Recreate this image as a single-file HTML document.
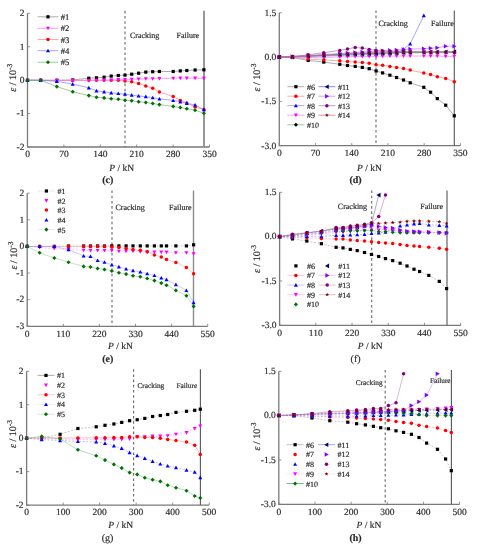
<!DOCTYPE html>
<html><head><meta charset="utf-8"><title>Strain vs load</title>
<style>
html,body{margin:0;padding:0;background:#fff;width:478px;height:550px;overflow:hidden;}
svg{display:block;will-change:transform;text-rendering:geometricPrecision;filter:blur(0.35px);}
text{stroke:#333;stroke-width:0.18px;font-family:"Liberation Serif", serif;}
</style></head><body>
<svg width="478" height="550" viewBox="0 0 478 550" font-family='"Liberation Serif", serif'>
<rect width="478" height="550" fill="#fff"/>
<line x1="27.5" y1="147" x2="27.5" y2="144.4" stroke="#7a7a7a" stroke-width="0.8"/>
<text x="27.5" y="157.3" font-size="9.5" text-anchor="middle" fill="#262626">0</text>
<line x1="63.9" y1="147" x2="63.9" y2="144.4" stroke="#7a7a7a" stroke-width="0.8"/>
<text x="63.9" y="157.3" font-size="9.5" text-anchor="middle" fill="#262626">70</text>
<line x1="100.3" y1="147" x2="100.3" y2="144.4" stroke="#7a7a7a" stroke-width="0.8"/>
<text x="100.3" y="157.3" font-size="9.5" text-anchor="middle" fill="#262626">140</text>
<line x1="136.7" y1="147" x2="136.7" y2="144.4" stroke="#7a7a7a" stroke-width="0.8"/>
<text x="136.7" y="157.3" font-size="9.5" text-anchor="middle" fill="#262626">210</text>
<line x1="173.1" y1="147" x2="173.1" y2="144.4" stroke="#7a7a7a" stroke-width="0.8"/>
<text x="173.1" y="157.3" font-size="9.5" text-anchor="middle" fill="#262626">280</text>
<line x1="209.5" y1="147" x2="209.5" y2="144.4" stroke="#7a7a7a" stroke-width="0.8"/>
<text x="209.5" y="157.3" font-size="9.5" text-anchor="middle" fill="#262626">350</text>
<line x1="27.5" y1="13.3" x2="30.1" y2="13.3" stroke="#7a7a7a" stroke-width="0.8"/>
<text x="24.5" y="16.1" font-size="9.5" text-anchor="end" fill="#262626">2</text>
<line x1="27.5" y1="46.72" x2="30.1" y2="46.72" stroke="#7a7a7a" stroke-width="0.8"/>
<text x="24.5" y="49.52" font-size="9.5" text-anchor="end" fill="#262626">1</text>
<line x1="27.5" y1="80.15" x2="30.1" y2="80.15" stroke="#7a7a7a" stroke-width="0.8"/>
<text x="24.5" y="82.95" font-size="9.5" text-anchor="end" fill="#262626">0</text>
<line x1="27.5" y1="113.57" x2="30.1" y2="113.57" stroke="#7a7a7a" stroke-width="0.8"/>
<text x="24.5" y="116.37" font-size="9.5" text-anchor="end" fill="#262626">-1</text>
<line x1="27.5" y1="147" x2="30.1" y2="147" stroke="#7a7a7a" stroke-width="0.8"/>
<text x="24.5" y="149.8" font-size="9.5" text-anchor="end" fill="#262626">-2</text>
<path d="M27.5 13.3V147H209.5" fill="none" stroke="#7a7a7a" stroke-width="1.3"/>
<line x1="125" y1="10.8" x2="125" y2="147" stroke="#666" stroke-width="1.1" stroke-dasharray="2.6,2.6"/>
<line x1="204" y1="10.8" x2="204" y2="147" stroke="#8c8c8c" stroke-width="1.8"/>
<text x="130" y="37.6" font-size="8" text-anchor="start" fill="#262626">Cracking</text>
<text x="176.5" y="37.6" font-size="8" text-anchor="start" fill="#262626">Failure</text>
<text transform="translate(16.2 77.7) rotate(-90)" font-size="10" text-anchor="middle" fill="#262626"><tspan font-style="italic">&#949;</tspan> / 10<tspan font-size="7.5" dy="-4">-3</tspan></text>
<text x="121.7" y="171" font-size="9.5" text-anchor="middle" fill="#262626"><tspan font-style="italic">P</tspan> / kN</text>
<text x="107.8" y="182.8" font-size="10" text-anchor="middle" font-weight="bold" fill="#262626">(c)</text>
<polyline points="27.5,80.3 40.7,80.3 56.8,80.3 72.7,80 88.8,78.2 96.5,77.8 104.1,77.2 111.2,76.1 118.3,75.5 125,75.1 131.7,74.2 138.6,73.2 145.8,72.1 152.7,71.7 159.4,71.5 173.2,71.5 180.3,70.9 186.8,70.5 195.1,70 203.9,69.8" fill="none" stroke="#8a8a8a" stroke-width="0.7"/>
<rect x="25.9" y="78.7" width="3.2" height="3.2" fill="#000000"/>
<rect x="39.1" y="78.7" width="3.2" height="3.2" fill="#000000"/>
<rect x="55.2" y="78.7" width="3.2" height="3.2" fill="#000000"/>
<rect x="71.1" y="78.4" width="3.2" height="3.2" fill="#000000"/>
<rect x="87.2" y="76.6" width="3.2" height="3.2" fill="#000000"/>
<rect x="94.9" y="76.2" width="3.2" height="3.2" fill="#000000"/>
<rect x="102.5" y="75.6" width="3.2" height="3.2" fill="#000000"/>
<rect x="109.6" y="74.5" width="3.2" height="3.2" fill="#000000"/>
<rect x="116.7" y="73.9" width="3.2" height="3.2" fill="#000000"/>
<rect x="123.4" y="73.5" width="3.2" height="3.2" fill="#000000"/>
<rect x="130.1" y="72.6" width="3.2" height="3.2" fill="#000000"/>
<rect x="137" y="71.6" width="3.2" height="3.2" fill="#000000"/>
<rect x="144.2" y="70.5" width="3.2" height="3.2" fill="#000000"/>
<rect x="151.1" y="70.1" width="3.2" height="3.2" fill="#000000"/>
<rect x="157.8" y="69.9" width="3.2" height="3.2" fill="#000000"/>
<rect x="171.6" y="69.9" width="3.2" height="3.2" fill="#000000"/>
<rect x="178.7" y="69.3" width="3.2" height="3.2" fill="#000000"/>
<rect x="185.2" y="68.9" width="3.2" height="3.2" fill="#000000"/>
<rect x="193.5" y="68.4" width="3.2" height="3.2" fill="#000000"/>
<rect x="202.3" y="68.2" width="3.2" height="3.2" fill="#000000"/>
<polyline points="27.5,80.3 40.7,80.3 56.8,80.3 72.7,80.3 88.8,80.3 96.5,80.3 104.1,80.3 111.2,80.3 118.3,80.3 125,81.1 131.7,81.8 138.6,83.6 145.8,85.9 152.7,88.2 159.4,92 173.2,96.6 180.3,100.4 186.8,102.9 195.1,107.1 203.9,109.6" fill="none" stroke="#ff8080" stroke-width="0.7"/>
<circle cx="27.5" cy="80.3" r="1.75" fill="#ff0000"/>
<circle cx="40.7" cy="80.3" r="1.75" fill="#ff0000"/>
<circle cx="56.8" cy="80.3" r="1.75" fill="#ff0000"/>
<circle cx="72.7" cy="80.3" r="1.75" fill="#ff0000"/>
<circle cx="88.8" cy="80.3" r="1.75" fill="#ff0000"/>
<circle cx="96.5" cy="80.3" r="1.75" fill="#ff0000"/>
<circle cx="104.1" cy="80.3" r="1.75" fill="#ff0000"/>
<circle cx="111.2" cy="80.3" r="1.75" fill="#ff0000"/>
<circle cx="118.3" cy="80.3" r="1.75" fill="#ff0000"/>
<circle cx="125" cy="81.1" r="1.75" fill="#ff0000"/>
<circle cx="131.7" cy="81.8" r="1.75" fill="#ff0000"/>
<circle cx="138.6" cy="83.6" r="1.75" fill="#ff0000"/>
<circle cx="145.8" cy="85.9" r="1.75" fill="#ff0000"/>
<circle cx="152.7" cy="88.2" r="1.75" fill="#ff0000"/>
<circle cx="159.4" cy="92" r="1.75" fill="#ff0000"/>
<circle cx="173.2" cy="96.6" r="1.75" fill="#ff0000"/>
<circle cx="180.3" cy="100.4" r="1.75" fill="#ff0000"/>
<circle cx="186.8" cy="102.9" r="1.75" fill="#ff0000"/>
<circle cx="195.1" cy="107.1" r="1.75" fill="#ff0000"/>
<circle cx="203.9" cy="109.6" r="1.75" fill="#ff0000"/>
<polyline points="27.5,80.3 40.7,80.3 56.8,80.5 72.7,80.5 88.8,80.5 96.5,80.3 104.1,80.3 111.2,80 118.3,79.7 125,79.5 131.7,79.3 138.6,79 145.8,78.8 152.7,78.8 159.4,78.5 173.2,78.3 180.3,78.2 186.8,78.2 195.1,78.2 203.9,78.4" fill="none" stroke="#f07cf0" stroke-width="0.7"/>
<path d="M27.5 82.3L29.5 78.7L25.5 78.7Z" fill="#ff00ff"/>
<path d="M40.7 82.3L42.7 78.7L38.7 78.7Z" fill="#ff00ff"/>
<path d="M56.8 82.5L58.8 78.9L54.8 78.9Z" fill="#ff00ff"/>
<path d="M72.7 82.5L74.7 78.9L70.7 78.9Z" fill="#ff00ff"/>
<path d="M88.8 82.5L90.8 78.9L86.8 78.9Z" fill="#ff00ff"/>
<path d="M96.5 82.3L98.5 78.7L94.5 78.7Z" fill="#ff00ff"/>
<path d="M104.1 82.3L106.1 78.7L102.1 78.7Z" fill="#ff00ff"/>
<path d="M111.2 82L113.2 78.4L109.2 78.4Z" fill="#ff00ff"/>
<path d="M118.3 81.7L120.3 78.1L116.3 78.1Z" fill="#ff00ff"/>
<path d="M125 81.5L127 77.9L123 77.9Z" fill="#ff00ff"/>
<path d="M131.7 81.3L133.7 77.7L129.7 77.7Z" fill="#ff00ff"/>
<path d="M138.6 81L140.6 77.4L136.6 77.4Z" fill="#ff00ff"/>
<path d="M145.8 80.8L147.8 77.2L143.8 77.2Z" fill="#ff00ff"/>
<path d="M152.7 80.8L154.7 77.2L150.7 77.2Z" fill="#ff00ff"/>
<path d="M159.4 80.5L161.4 76.9L157.4 76.9Z" fill="#ff00ff"/>
<path d="M173.2 80.3L175.2 76.7L171.2 76.7Z" fill="#ff00ff"/>
<path d="M180.3 80.2L182.3 76.6L178.3 76.6Z" fill="#ff00ff"/>
<path d="M186.8 80.2L188.8 76.6L184.8 76.6Z" fill="#ff00ff"/>
<path d="M195.1 80.2L197.1 76.6L193.1 76.6Z" fill="#ff00ff"/>
<path d="M203.9 80.4L205.9 76.8L201.9 76.8Z" fill="#ff00ff"/>
<polyline points="27.5,80.3 40.7,80.3 56.8,81.3 72.7,84.1 88.8,87.8 96.5,90.8 104.1,91.8 111.2,92.8 118.3,93.5 125,94.1 131.7,95.1 138.6,96 145.8,96.6 152.7,97.7 159.4,98.9 173.2,100.4 180.3,101.8 186.8,103.3 195.1,105 203.9,109.6" fill="none" stroke="#7f7fff" stroke-width="0.7"/>
<path d="M27.5 78.3L29.5 81.9L25.5 81.9Z" fill="#0000ff"/>
<path d="M40.7 78.3L42.7 81.9L38.7 81.9Z" fill="#0000ff"/>
<path d="M56.8 79.3L58.8 82.9L54.8 82.9Z" fill="#0000ff"/>
<path d="M72.7 82.1L74.7 85.7L70.7 85.7Z" fill="#0000ff"/>
<path d="M88.8 85.8L90.8 89.4L86.8 89.4Z" fill="#0000ff"/>
<path d="M96.5 88.8L98.5 92.4L94.5 92.4Z" fill="#0000ff"/>
<path d="M104.1 89.8L106.1 93.4L102.1 93.4Z" fill="#0000ff"/>
<path d="M111.2 90.8L113.2 94.4L109.2 94.4Z" fill="#0000ff"/>
<path d="M118.3 91.5L120.3 95.1L116.3 95.1Z" fill="#0000ff"/>
<path d="M125 92.1L127 95.7L123 95.7Z" fill="#0000ff"/>
<path d="M131.7 93.1L133.7 96.7L129.7 96.7Z" fill="#0000ff"/>
<path d="M138.6 94L140.6 97.6L136.6 97.6Z" fill="#0000ff"/>
<path d="M145.8 94.6L147.8 98.2L143.8 98.2Z" fill="#0000ff"/>
<path d="M152.7 95.7L154.7 99.3L150.7 99.3Z" fill="#0000ff"/>
<path d="M159.4 96.9L161.4 100.5L157.4 100.5Z" fill="#0000ff"/>
<path d="M173.2 98.4L175.2 102L171.2 102Z" fill="#0000ff"/>
<path d="M180.3 99.8L182.3 103.4L178.3 103.4Z" fill="#0000ff"/>
<path d="M186.8 101.3L188.8 104.9L184.8 104.9Z" fill="#0000ff"/>
<path d="M195.1 103L197.1 106.6L193.1 106.6Z" fill="#0000ff"/>
<path d="M203.9 107.6L205.9 111.2L201.9 111.2Z" fill="#0000ff"/>
<polyline points="27.5,80.3 40.7,80.3 56.8,86.6 72.7,91.8 88.8,95.6 96.5,97.2 104.1,97.9 111.2,98.7 118.3,99.3 125,100.2 131.7,100.8 138.6,101.8 145.8,102.5 152.7,103.5 159.4,104.6 173.2,106.4 180.3,107.5 186.8,108.7 195.1,110.2 203.9,113.3" fill="none" stroke="#74b874" stroke-width="0.7"/>
<path d="M27.5 78.25L29.55 80.3L27.5 82.35L25.45 80.3Z" fill="#006f00"/>
<path d="M40.7 78.25L42.75 80.3L40.7 82.35L38.65 80.3Z" fill="#006f00"/>
<path d="M56.8 84.55L58.85 86.6L56.8 88.65L54.75 86.6Z" fill="#006f00"/>
<path d="M72.7 89.75L74.75 91.8L72.7 93.85L70.65 91.8Z" fill="#006f00"/>
<path d="M88.8 93.55L90.85 95.6L88.8 97.65L86.75 95.6Z" fill="#006f00"/>
<path d="M96.5 95.15L98.55 97.2L96.5 99.25L94.45 97.2Z" fill="#006f00"/>
<path d="M104.1 95.85L106.15 97.9L104.1 99.95L102.05 97.9Z" fill="#006f00"/>
<path d="M111.2 96.65L113.25 98.7L111.2 100.75L109.15 98.7Z" fill="#006f00"/>
<path d="M118.3 97.25L120.35 99.3L118.3 101.35L116.25 99.3Z" fill="#006f00"/>
<path d="M125 98.15L127.05 100.2L125 102.25L122.95 100.2Z" fill="#006f00"/>
<path d="M131.7 98.75L133.75 100.8L131.7 102.85L129.65 100.8Z" fill="#006f00"/>
<path d="M138.6 99.75L140.65 101.8L138.6 103.85L136.55 101.8Z" fill="#006f00"/>
<path d="M145.8 100.45L147.85 102.5L145.8 104.55L143.75 102.5Z" fill="#006f00"/>
<path d="M152.7 101.45L154.75 103.5L152.7 105.55L150.65 103.5Z" fill="#006f00"/>
<path d="M159.4 102.55L161.45 104.6L159.4 106.65L157.35 104.6Z" fill="#006f00"/>
<path d="M173.2 104.35L175.25 106.4L173.2 108.45L171.15 106.4Z" fill="#006f00"/>
<path d="M180.3 105.45L182.35 107.5L180.3 109.55L178.25 107.5Z" fill="#006f00"/>
<path d="M186.8 106.65L188.85 108.7L186.8 110.75L184.75 108.7Z" fill="#006f00"/>
<path d="M195.1 108.15L197.15 110.2L195.1 112.25L193.05 110.2Z" fill="#006f00"/>
<path d="M203.9 111.25L205.95 113.3L203.9 115.35L201.85 113.3Z" fill="#006f00"/>
<line x1="37.6" y1="16.8" x2="58.4" y2="16.8" stroke="#8a8a8a" stroke-width="0.7" stroke-opacity="1.0"/>
<rect x="46.4" y="15.2" width="3.2" height="3.2" fill="#000000"/>
<text x="60.8" y="19.91" font-size="8.6" text-anchor="start" fill="#262626">#1</text>
<line x1="37.6" y1="28.3" x2="58.4" y2="28.3" stroke="#f07cf0" stroke-width="0.7" stroke-opacity="1.0"/>
<path d="M48 30.3L50 26.7L46 26.7Z" fill="#ff00ff"/>
<text x="60.8" y="31.41" font-size="8.6" text-anchor="start" fill="#262626">#2</text>
<line x1="37.6" y1="39.5" x2="58.4" y2="39.5" stroke="#ff8080" stroke-width="0.7" stroke-opacity="1.0"/>
<circle cx="48" cy="39.5" r="1.75" fill="#ff0000"/>
<text x="60.8" y="42.61" font-size="8.6" text-anchor="start" fill="#262626">#3</text>
<line x1="37.6" y1="50.7" x2="58.4" y2="50.7" stroke="#7f7fff" stroke-width="0.7" stroke-opacity="1.0"/>
<path d="M48 48.7L50 52.3L46 52.3Z" fill="#0000ff"/>
<text x="60.8" y="53.81" font-size="8.6" text-anchor="start" fill="#262626">#4</text>
<line x1="37.6" y1="62.2" x2="58.4" y2="62.2" stroke="#74b874" stroke-width="0.7" stroke-opacity="1.0"/>
<path d="M48 60.15L50.05 62.2L48 64.25L45.95 62.2Z" fill="#006f00"/>
<text x="60.8" y="65.31" font-size="8.6" text-anchor="start" fill="#262626">#5</text>
<line x1="279.3" y1="145.7" x2="279.3" y2="143.1" stroke="#7a7a7a" stroke-width="0.8"/>
<text x="279.3" y="156" font-size="9.5" text-anchor="middle" fill="#262626">0</text>
<line x1="315.52" y1="145.7" x2="315.52" y2="143.1" stroke="#7a7a7a" stroke-width="0.8"/>
<text x="315.52" y="156" font-size="9.5" text-anchor="middle" fill="#262626">70</text>
<line x1="351.74" y1="145.7" x2="351.74" y2="143.1" stroke="#7a7a7a" stroke-width="0.8"/>
<text x="351.74" y="156" font-size="9.5" text-anchor="middle" fill="#262626">140</text>
<line x1="387.96" y1="145.7" x2="387.96" y2="143.1" stroke="#7a7a7a" stroke-width="0.8"/>
<text x="387.96" y="156" font-size="9.5" text-anchor="middle" fill="#262626">210</text>
<line x1="424.18" y1="145.7" x2="424.18" y2="143.1" stroke="#7a7a7a" stroke-width="0.8"/>
<text x="424.18" y="156" font-size="9.5" text-anchor="middle" fill="#262626">280</text>
<line x1="460.4" y1="145.7" x2="460.4" y2="143.1" stroke="#7a7a7a" stroke-width="0.8"/>
<text x="460.4" y="156" font-size="9.5" text-anchor="middle" fill="#262626">350</text>
<line x1="279.3" y1="12.8" x2="281.9" y2="12.8" stroke="#7a7a7a" stroke-width="0.8"/>
<text x="276.3" y="15.6" font-size="9.5" text-anchor="end" fill="#262626">1.5</text>
<line x1="279.3" y1="57.1" x2="281.9" y2="57.1" stroke="#7a7a7a" stroke-width="0.8"/>
<text x="276.3" y="59.9" font-size="9.5" text-anchor="end" fill="#262626">0.0</text>
<line x1="279.3" y1="101.4" x2="281.9" y2="101.4" stroke="#7a7a7a" stroke-width="0.8"/>
<text x="276.3" y="104.2" font-size="9.5" text-anchor="end" fill="#262626">-1.5</text>
<line x1="279.3" y1="145.7" x2="281.9" y2="145.7" stroke="#7a7a7a" stroke-width="0.8"/>
<text x="276.3" y="148.5" font-size="9.5" text-anchor="end" fill="#262626">-3.0</text>
<path d="M279.3 12.8V145.7H460.4" fill="none" stroke="#7a7a7a" stroke-width="1.3"/>
<line x1="376" y1="10.4" x2="376" y2="145.7" stroke="#666" stroke-width="1.1" stroke-dasharray="2.6,2.6"/>
<line x1="454.3" y1="10.4" x2="454.3" y2="145.7" stroke="#555" stroke-width="1.1"/>
<text x="378.5" y="25.8" font-size="8" text-anchor="start" fill="#262626">Cracking</text>
<text x="431.1" y="25.8" font-size="8" text-anchor="start" fill="#262626">Failure</text>
<text transform="translate(260.2 77.5) rotate(-90)" font-size="10" text-anchor="middle" fill="#262626"><tspan font-style="italic">&#949;</tspan> / 10<tspan font-size="7.5" dy="-4">-3</tspan></text>
<text x="369.5" y="170.9" font-size="9.5" text-anchor="middle" fill="#262626"><tspan font-style="italic">P</tspan> / kN</text>
<text x="355.6" y="182.8" font-size="10" text-anchor="middle" font-weight="bold" fill="#262626">(d)</text>
<polyline points="279.3,57.1 292.4,57.5 308.2,60.4 323.8,62.1 339.8,64.3 347.5,65.5 355.2,66.4 362.3,67.4 369.2,68.7 376.1,71 382.6,72.9 389.9,75.2 396.6,77.5 403.5,80 410.2,82.8 423.8,87.3 430.6,92.2 437.3,98.6 445.7,105.2 454.3,115.8" fill="none" stroke="#8a8a8a" stroke-width="0.7"/>
<rect x="277.7" y="55.5" width="3.2" height="3.2" fill="#000000"/>
<rect x="290.8" y="55.9" width="3.2" height="3.2" fill="#000000"/>
<rect x="306.6" y="58.8" width="3.2" height="3.2" fill="#000000"/>
<rect x="322.2" y="60.5" width="3.2" height="3.2" fill="#000000"/>
<rect x="338.2" y="62.7" width="3.2" height="3.2" fill="#000000"/>
<rect x="345.9" y="63.9" width="3.2" height="3.2" fill="#000000"/>
<rect x="353.6" y="64.8" width="3.2" height="3.2" fill="#000000"/>
<rect x="360.7" y="65.8" width="3.2" height="3.2" fill="#000000"/>
<rect x="367.6" y="67.1" width="3.2" height="3.2" fill="#000000"/>
<rect x="374.5" y="69.4" width="3.2" height="3.2" fill="#000000"/>
<rect x="381" y="71.3" width="3.2" height="3.2" fill="#000000"/>
<rect x="388.3" y="73.6" width="3.2" height="3.2" fill="#000000"/>
<rect x="395" y="75.9" width="3.2" height="3.2" fill="#000000"/>
<rect x="401.9" y="78.4" width="3.2" height="3.2" fill="#000000"/>
<rect x="408.6" y="81.2" width="3.2" height="3.2" fill="#000000"/>
<rect x="422.2" y="85.7" width="3.2" height="3.2" fill="#000000"/>
<rect x="429" y="90.6" width="3.2" height="3.2" fill="#000000"/>
<rect x="435.7" y="97" width="3.2" height="3.2" fill="#000000"/>
<rect x="444.1" y="103.6" width="3.2" height="3.2" fill="#000000"/>
<rect x="452.7" y="114.2" width="3.2" height="3.2" fill="#000000"/>
<polyline points="279.3,57.1 292.4,57.3 308.2,59 323.8,59.8 339.8,60.8 347.5,61.5 355.2,62 362.3,62.6 369.2,63.3 376.1,64.7 382.6,65.3 389.9,66.4 396.6,67.4 403.5,68.5 410.2,70.1 423.8,73.1 430.6,74.6 437.3,76.7 445.7,78.4 454.3,81.8" fill="none" stroke="#ff8080" stroke-width="0.7"/>
<circle cx="279.3" cy="57.1" r="1.75" fill="#ff0000"/>
<circle cx="292.4" cy="57.3" r="1.75" fill="#ff0000"/>
<circle cx="308.2" cy="59" r="1.75" fill="#ff0000"/>
<circle cx="323.8" cy="59.8" r="1.75" fill="#ff0000"/>
<circle cx="339.8" cy="60.8" r="1.75" fill="#ff0000"/>
<circle cx="347.5" cy="61.5" r="1.75" fill="#ff0000"/>
<circle cx="355.2" cy="62" r="1.75" fill="#ff0000"/>
<circle cx="362.3" cy="62.6" r="1.75" fill="#ff0000"/>
<circle cx="369.2" cy="63.3" r="1.75" fill="#ff0000"/>
<circle cx="376.1" cy="64.7" r="1.75" fill="#ff0000"/>
<circle cx="382.6" cy="65.3" r="1.75" fill="#ff0000"/>
<circle cx="389.9" cy="66.4" r="1.75" fill="#ff0000"/>
<circle cx="396.6" cy="67.4" r="1.75" fill="#ff0000"/>
<circle cx="403.5" cy="68.5" r="1.75" fill="#ff0000"/>
<circle cx="410.2" cy="70.1" r="1.75" fill="#ff0000"/>
<circle cx="423.8" cy="73.1" r="1.75" fill="#ff0000"/>
<circle cx="430.6" cy="74.6" r="1.75" fill="#ff0000"/>
<circle cx="437.3" cy="76.7" r="1.75" fill="#ff0000"/>
<circle cx="445.7" cy="78.4" r="1.75" fill="#ff0000"/>
<circle cx="454.3" cy="81.8" r="1.75" fill="#ff0000"/>
<polyline points="279.3,57.1 292.4,57 308.2,56.5 323.8,56 339.8,55.5 347.5,55.2 355.2,55 362.3,54.8 369.2,54.6 376.1,54.4 382.6,54 389.9,53.5 396.6,53 403.5,49.2 410.2,43.8 423.8,15.6" fill="none" stroke="#7f7fff" stroke-width="0.7"/>
<path d="M279.3 55.1L281.3 58.7L277.3 58.7Z" fill="#0000ff"/>
<path d="M292.4 55L294.4 58.6L290.4 58.6Z" fill="#0000ff"/>
<path d="M308.2 54.5L310.2 58.1L306.2 58.1Z" fill="#0000ff"/>
<path d="M323.8 54L325.8 57.6L321.8 57.6Z" fill="#0000ff"/>
<path d="M339.8 53.5L341.8 57.1L337.8 57.1Z" fill="#0000ff"/>
<path d="M347.5 53.2L349.5 56.8L345.5 56.8Z" fill="#0000ff"/>
<path d="M355.2 53L357.2 56.6L353.2 56.6Z" fill="#0000ff"/>
<path d="M362.3 52.8L364.3 56.4L360.3 56.4Z" fill="#0000ff"/>
<path d="M369.2 52.6L371.2 56.2L367.2 56.2Z" fill="#0000ff"/>
<path d="M376.1 52.4L378.1 56L374.1 56Z" fill="#0000ff"/>
<path d="M382.6 52L384.6 55.6L380.6 55.6Z" fill="#0000ff"/>
<path d="M389.9 51.5L391.9 55.1L387.9 55.1Z" fill="#0000ff"/>
<path d="M396.6 51L398.6 54.6L394.6 54.6Z" fill="#0000ff"/>
<path d="M403.5 47.2L405.5 50.8L401.5 50.8Z" fill="#0000ff"/>
<path d="M410.2 41.8L412.2 45.4L408.2 45.4Z" fill="#0000ff"/>
<path d="M423.8 13.6L425.8 17.2L421.8 17.2Z" fill="#0000ff"/>
<polyline points="279.3,57.1 292.4,57.3 308.2,57.5 323.8,57.3 339.8,57 347.5,56.8 355.2,56.6 362.3,56.5 369.2,56.4 376.1,56.3 382.6,56.2 389.9,56.1 396.6,56 403.5,56 410.2,56 423.8,56 430.6,56 437.3,56 445.7,56.4 454.3,56.3" fill="none" stroke="#f07cf0" stroke-width="0.7"/>
<path d="M279.3 59.1L281.3 55.5L277.3 55.5Z" fill="#ff00ff"/>
<path d="M292.4 59.3L294.4 55.7L290.4 55.7Z" fill="#ff00ff"/>
<path d="M308.2 59.5L310.2 55.9L306.2 55.9Z" fill="#ff00ff"/>
<path d="M323.8 59.3L325.8 55.7L321.8 55.7Z" fill="#ff00ff"/>
<path d="M339.8 59L341.8 55.4L337.8 55.4Z" fill="#ff00ff"/>
<path d="M347.5 58.8L349.5 55.2L345.5 55.2Z" fill="#ff00ff"/>
<path d="M355.2 58.6L357.2 55L353.2 55Z" fill="#ff00ff"/>
<path d="M362.3 58.5L364.3 54.9L360.3 54.9Z" fill="#ff00ff"/>
<path d="M369.2 58.4L371.2 54.8L367.2 54.8Z" fill="#ff00ff"/>
<path d="M376.1 58.3L378.1 54.7L374.1 54.7Z" fill="#ff00ff"/>
<path d="M382.6 58.2L384.6 54.6L380.6 54.6Z" fill="#ff00ff"/>
<path d="M389.9 58.1L391.9 54.5L387.9 54.5Z" fill="#ff00ff"/>
<path d="M396.6 58L398.6 54.4L394.6 54.4Z" fill="#ff00ff"/>
<path d="M403.5 58L405.5 54.4L401.5 54.4Z" fill="#ff00ff"/>
<path d="M410.2 58L412.2 54.4L408.2 54.4Z" fill="#ff00ff"/>
<path d="M423.8 58L425.8 54.4L421.8 54.4Z" fill="#ff00ff"/>
<path d="M430.6 58L432.6 54.4L428.6 54.4Z" fill="#ff00ff"/>
<path d="M437.3 58L439.3 54.4L435.3 54.4Z" fill="#ff00ff"/>
<path d="M445.7 58.4L447.7 54.8L443.7 54.8Z" fill="#ff00ff"/>
<path d="M454.3 58.3L456.3 54.7L452.3 54.7Z" fill="#ff00ff"/>
<polyline points="279.3,57.1 292.4,56.8 308.2,56.2 323.8,55.6 339.8,55 347.5,54.6 355.2,54.3 362.3,54 369.2,53.8 376.1,53.6 382.6,53.4 389.9,53.2 396.6,53.1 403.5,53 410.2,52.9 423.8,52.8 430.6,52.7 437.3,52.7 445.7,52.6 454.3,52.5" fill="none" stroke="#74b874" stroke-width="0.7"/>
<path d="M279.3 55.05L281.35 57.1L279.3 59.15L277.25 57.1Z" fill="#006f00"/>
<path d="M292.4 54.75L294.45 56.8L292.4 58.85L290.35 56.8Z" fill="#006f00"/>
<path d="M308.2 54.15L310.25 56.2L308.2 58.25L306.15 56.2Z" fill="#006f00"/>
<path d="M323.8 53.55L325.85 55.6L323.8 57.65L321.75 55.6Z" fill="#006f00"/>
<path d="M339.8 52.95L341.85 55L339.8 57.05L337.75 55Z" fill="#006f00"/>
<path d="M347.5 52.55L349.55 54.6L347.5 56.65L345.45 54.6Z" fill="#006f00"/>
<path d="M355.2 52.25L357.25 54.3L355.2 56.35L353.15 54.3Z" fill="#006f00"/>
<path d="M362.3 51.95L364.35 54L362.3 56.05L360.25 54Z" fill="#006f00"/>
<path d="M369.2 51.75L371.25 53.8L369.2 55.85L367.15 53.8Z" fill="#006f00"/>
<path d="M376.1 51.55L378.15 53.6L376.1 55.65L374.05 53.6Z" fill="#006f00"/>
<path d="M382.6 51.35L384.65 53.4L382.6 55.45L380.55 53.4Z" fill="#006f00"/>
<path d="M389.9 51.15L391.95 53.2L389.9 55.25L387.85 53.2Z" fill="#006f00"/>
<path d="M396.6 51.05L398.65 53.1L396.6 55.15L394.55 53.1Z" fill="#006f00"/>
<path d="M403.5 50.95L405.55 53L403.5 55.05L401.45 53Z" fill="#006f00"/>
<path d="M410.2 50.85L412.25 52.9L410.2 54.95L408.15 52.9Z" fill="#006f00"/>
<path d="M423.8 50.75L425.85 52.8L423.8 54.85L421.75 52.8Z" fill="#006f00"/>
<path d="M430.6 50.65L432.65 52.7L430.6 54.75L428.55 52.7Z" fill="#006f00"/>
<path d="M437.3 50.65L439.35 52.7L437.3 54.75L435.25 52.7Z" fill="#006f00"/>
<path d="M445.7 50.55L447.75 52.6L445.7 54.65L443.65 52.6Z" fill="#006f00"/>
<path d="M454.3 50.45L456.35 52.5L454.3 54.55L452.25 52.5Z" fill="#006f00"/>
<polyline points="279.3,57.1 292.4,56.8 308.2,56 323.8,55.2 339.8,54.5 347.5,54.2 355.2,53.9 362.3,53.6 369.2,53.4 376.1,53.2 382.6,53 389.9,52.8 396.6,52.6 403.5,52.4 410.2,52.3 423.8,52.2 430.6,52.1 437.3,52 445.7,51.9 454.3,51.8" fill="none" stroke="#5c5cb0" stroke-width="0.7"/>
<path d="M277 57.1L281.14 54.8L281.14 59.4Z" fill="#000080"/>
<path d="M290.1 56.8L294.24 54.5L294.24 59.1Z" fill="#000080"/>
<path d="M305.9 56L310.04 53.7L310.04 58.3Z" fill="#000080"/>
<path d="M321.5 55.2L325.64 52.9L325.64 57.5Z" fill="#000080"/>
<path d="M337.5 54.5L341.64 52.2L341.64 56.8Z" fill="#000080"/>
<path d="M345.2 54.2L349.34 51.9L349.34 56.5Z" fill="#000080"/>
<path d="M352.9 53.9L357.04 51.6L357.04 56.2Z" fill="#000080"/>
<path d="M360 53.6L364.14 51.3L364.14 55.9Z" fill="#000080"/>
<path d="M366.9 53.4L371.04 51.1L371.04 55.7Z" fill="#000080"/>
<path d="M373.8 53.2L377.94 50.9L377.94 55.5Z" fill="#000080"/>
<path d="M380.3 53L384.44 50.7L384.44 55.3Z" fill="#000080"/>
<path d="M387.6 52.8L391.74 50.5L391.74 55.1Z" fill="#000080"/>
<path d="M394.3 52.6L398.44 50.3L398.44 54.9Z" fill="#000080"/>
<path d="M401.2 52.4L405.34 50.1L405.34 54.7Z" fill="#000080"/>
<path d="M407.9 52.3L412.04 50L412.04 54.6Z" fill="#000080"/>
<path d="M421.5 52.2L425.64 49.9L425.64 54.5Z" fill="#000080"/>
<path d="M428.3 52.1L432.44 49.8L432.44 54.4Z" fill="#000080"/>
<path d="M435 52L439.14 49.7L439.14 54.3Z" fill="#000080"/>
<path d="M443.4 51.9L447.54 49.6L447.54 54.2Z" fill="#000080"/>
<path d="M452 51.8L456.14 49.5L456.14 54.1Z" fill="#000080"/>
<polyline points="279.3,57.1 292.4,56.5 308.2,55.5 323.8,54.5 339.8,53.5 347.5,53 355.2,52.5 362.3,52 369.2,51.6 376.1,51.2 382.6,50.8 389.9,50.4 396.6,50 403.5,49.5 410.2,49 423.8,48.8 430.6,48.2 437.3,47.8 445.7,46.2 454.3,46.2" fill="none" stroke="#b780ff" stroke-width="0.7"/>
<path d="M281.6 57.1L277.46 54.8L277.46 59.4Z" fill="#8000ff"/>
<path d="M294.7 56.5L290.56 54.2L290.56 58.8Z" fill="#8000ff"/>
<path d="M310.5 55.5L306.36 53.2L306.36 57.8Z" fill="#8000ff"/>
<path d="M326.1 54.5L321.96 52.2L321.96 56.8Z" fill="#8000ff"/>
<path d="M342.1 53.5L337.96 51.2L337.96 55.8Z" fill="#8000ff"/>
<path d="M349.8 53L345.66 50.7L345.66 55.3Z" fill="#8000ff"/>
<path d="M357.5 52.5L353.36 50.2L353.36 54.8Z" fill="#8000ff"/>
<path d="M364.6 52L360.46 49.7L360.46 54.3Z" fill="#8000ff"/>
<path d="M371.5 51.6L367.36 49.3L367.36 53.9Z" fill="#8000ff"/>
<path d="M378.4 51.2L374.26 48.9L374.26 53.5Z" fill="#8000ff"/>
<path d="M384.9 50.8L380.76 48.5L380.76 53.1Z" fill="#8000ff"/>
<path d="M392.2 50.4L388.06 48.1L388.06 52.7Z" fill="#8000ff"/>
<path d="M398.9 50L394.76 47.7L394.76 52.3Z" fill="#8000ff"/>
<path d="M405.8 49.5L401.66 47.2L401.66 51.8Z" fill="#8000ff"/>
<path d="M412.5 49L408.36 46.7L408.36 51.3Z" fill="#8000ff"/>
<path d="M426.1 48.8L421.96 46.5L421.96 51.1Z" fill="#8000ff"/>
<path d="M432.9 48.2L428.76 45.9L428.76 50.5Z" fill="#8000ff"/>
<path d="M439.6 47.8L435.46 45.5L435.46 50.1Z" fill="#8000ff"/>
<path d="M448 46.2L443.86 43.9L443.86 48.5Z" fill="#8000ff"/>
<path d="M456.6 46.2L452.46 43.9L452.46 48.5Z" fill="#8000ff"/>
<polyline points="279.3,57.1 292.4,56.5 308.2,54.8 323.8,52.7 339.8,50.4 347.5,48.9 355.2,47.5 362.3,48.1 369.2,49.4 376.1,50.4 382.6,51 389.9,51.5 396.6,51.7 403.5,51.8 410.2,51.9 423.8,52 430.6,52 437.3,52 445.7,52 454.3,52.2" fill="none" stroke="#b070b0" stroke-width="0.7"/>
<circle cx="279.3" cy="57.1" r="1.75" fill="#800080"/>
<circle cx="292.4" cy="56.5" r="1.75" fill="#800080"/>
<circle cx="308.2" cy="54.8" r="1.75" fill="#800080"/>
<circle cx="323.8" cy="52.7" r="1.75" fill="#800080"/>
<circle cx="339.8" cy="50.4" r="1.75" fill="#800080"/>
<circle cx="347.5" cy="48.9" r="1.75" fill="#800080"/>
<circle cx="355.2" cy="47.5" r="1.75" fill="#800080"/>
<circle cx="362.3" cy="48.1" r="1.75" fill="#800080"/>
<circle cx="369.2" cy="49.4" r="1.75" fill="#800080"/>
<circle cx="376.1" cy="50.4" r="1.75" fill="#800080"/>
<circle cx="382.6" cy="51" r="1.75" fill="#800080"/>
<circle cx="389.9" cy="51.5" r="1.75" fill="#800080"/>
<circle cx="396.6" cy="51.7" r="1.75" fill="#800080"/>
<circle cx="403.5" cy="51.8" r="1.75" fill="#800080"/>
<circle cx="410.2" cy="51.9" r="1.75" fill="#800080"/>
<circle cx="423.8" cy="52" r="1.75" fill="#800080"/>
<circle cx="430.6" cy="52" r="1.75" fill="#800080"/>
<circle cx="437.3" cy="52" r="1.75" fill="#800080"/>
<circle cx="445.7" cy="52" r="1.75" fill="#800080"/>
<circle cx="454.3" cy="52.2" r="1.75" fill="#800080"/>
<polyline points="279.3,57.1 292.4,56.6 308.2,55.8 323.8,55 339.8,54.2 347.5,53.8 355.2,53.4 362.3,53 369.2,52.7 376.1,52.4 382.6,52.2 389.9,52 396.6,51.9 403.5,51.8 410.2,51.8 423.8,51.9 430.6,51.9 437.3,51.9 445.7,51.9 454.3,52.2" fill="none" stroke="#b07070" stroke-width="0.7"/>
<path d="M279.3 55.1L279.83 56.37L281.2 56.48L280.16 57.38L280.48 58.72L279.3 58L278.12 58.72L278.44 57.38L277.4 56.48L278.77 56.37Z" fill="#800000"/>
<path d="M292.4 54.6L292.93 55.87L294.3 55.98L293.26 56.88L293.58 58.22L292.4 57.5L291.22 58.22L291.54 56.88L290.5 55.98L291.87 55.87Z" fill="#800000"/>
<path d="M308.2 53.8L308.73 55.07L310.1 55.18L309.06 56.08L309.38 57.42L308.2 56.7L307.02 57.42L307.34 56.08L306.3 55.18L307.67 55.07Z" fill="#800000"/>
<path d="M323.8 53L324.33 54.27L325.7 54.38L324.66 55.28L324.98 56.62L323.8 55.9L322.62 56.62L322.94 55.28L321.9 54.38L323.27 54.27Z" fill="#800000"/>
<path d="M339.8 52.2L340.33 53.47L341.7 53.58L340.66 54.48L340.98 55.82L339.8 55.1L338.62 55.82L338.94 54.48L337.9 53.58L339.27 53.47Z" fill="#800000"/>
<path d="M347.5 51.8L348.03 53.07L349.4 53.18L348.36 54.08L348.68 55.42L347.5 54.7L346.32 55.42L346.64 54.08L345.6 53.18L346.97 53.07Z" fill="#800000"/>
<path d="M355.2 51.4L355.73 52.67L357.1 52.78L356.06 53.68L356.38 55.02L355.2 54.3L354.02 55.02L354.34 53.68L353.3 52.78L354.67 52.67Z" fill="#800000"/>
<path d="M362.3 51L362.83 52.27L364.2 52.38L363.16 53.28L363.48 54.62L362.3 53.9L361.12 54.62L361.44 53.28L360.4 52.38L361.77 52.27Z" fill="#800000"/>
<path d="M369.2 50.7L369.73 51.97L371.1 52.08L370.06 52.98L370.38 54.32L369.2 53.6L368.02 54.32L368.34 52.98L367.3 52.08L368.67 51.97Z" fill="#800000"/>
<path d="M376.1 50.4L376.63 51.67L378 51.78L376.96 52.68L377.28 54.02L376.1 53.3L374.92 54.02L375.24 52.68L374.2 51.78L375.57 51.67Z" fill="#800000"/>
<path d="M382.6 50.2L383.13 51.47L384.5 51.58L383.46 52.48L383.78 53.82L382.6 53.1L381.42 53.82L381.74 52.48L380.7 51.58L382.07 51.47Z" fill="#800000"/>
<path d="M389.9 50L390.43 51.27L391.8 51.38L390.76 52.28L391.08 53.62L389.9 52.9L388.72 53.62L389.04 52.28L388 51.38L389.37 51.27Z" fill="#800000"/>
<path d="M396.6 49.9L397.13 51.17L398.5 51.28L397.46 52.18L397.78 53.52L396.6 52.8L395.42 53.52L395.74 52.18L394.7 51.28L396.07 51.17Z" fill="#800000"/>
<path d="M403.5 49.8L404.03 51.07L405.4 51.18L404.36 52.08L404.68 53.42L403.5 52.7L402.32 53.42L402.64 52.08L401.6 51.18L402.97 51.07Z" fill="#800000"/>
<path d="M410.2 49.8L410.73 51.07L412.1 51.18L411.06 52.08L411.38 53.42L410.2 52.7L409.02 53.42L409.34 52.08L408.3 51.18L409.67 51.07Z" fill="#800000"/>
<path d="M423.8 49.9L424.33 51.17L425.7 51.28L424.66 52.18L424.98 53.52L423.8 52.8L422.62 53.52L422.94 52.18L421.9 51.28L423.27 51.17Z" fill="#800000"/>
<path d="M430.6 49.9L431.13 51.17L432.5 51.28L431.46 52.18L431.78 53.52L430.6 52.8L429.42 53.52L429.74 52.18L428.7 51.28L430.07 51.17Z" fill="#800000"/>
<path d="M437.3 49.9L437.83 51.17L439.2 51.28L438.16 52.18L438.48 53.52L437.3 52.8L436.12 53.52L436.44 52.18L435.4 51.28L436.77 51.17Z" fill="#800000"/>
<path d="M445.7 49.9L446.23 51.17L447.6 51.28L446.56 52.18L446.88 53.52L445.7 52.8L444.52 53.52L444.84 52.18L443.8 51.28L445.17 51.17Z" fill="#800000"/>
<path d="M454.3 50.2L454.83 51.47L456.2 51.58L455.16 52.48L455.48 53.82L454.3 53.1L453.12 53.82L453.44 52.48L452.4 51.58L453.77 51.47Z" fill="#800000"/>
<line x1="287.4" y1="86.7" x2="304.4" y2="86.7" stroke="#8a8a8a" stroke-width="0.7" stroke-opacity="1.0"/>
<rect x="294.3" y="85.1" width="3.2" height="3.2" fill="#000000"/>
<text x="306.9" y="89.6" font-size="8" text-anchor="start" fill="#262626">#6</text>
<line x1="287.4" y1="96.2" x2="304.4" y2="96.2" stroke="#ff8080" stroke-width="0.7" stroke-opacity="1.0"/>
<circle cx="295.9" cy="96.2" r="1.75" fill="#ff0000"/>
<text x="306.9" y="99.1" font-size="8" text-anchor="start" fill="#262626">#7</text>
<line x1="287.4" y1="105.7" x2="304.4" y2="105.7" stroke="#7f7fff" stroke-width="0.7" stroke-opacity="1.0"/>
<path d="M295.9 103.7L297.9 107.3L293.9 107.3Z" fill="#0000ff"/>
<text x="306.9" y="108.6" font-size="8" text-anchor="start" fill="#262626">#8</text>
<line x1="287.4" y1="115.2" x2="304.4" y2="115.2" stroke="#f07cf0" stroke-width="0.7" stroke-opacity="1.0"/>
<path d="M295.9 117.2L297.9 113.6L293.9 113.6Z" fill="#ff00ff"/>
<text x="306.9" y="118.1" font-size="8" text-anchor="start" fill="#262626">#9</text>
<line x1="287.4" y1="124.8" x2="304.4" y2="124.8" stroke="#74b874" stroke-width="0.7" stroke-opacity="1.0"/>
<path d="M295.9 122.75L297.95 124.8L295.9 126.85L293.85 124.8Z" fill="#000000"/>
<text x="306.9" y="127.7" font-size="8" text-anchor="start" fill="#262626">#10</text>
<line x1="318.4" y1="86.7" x2="335.4" y2="86.7" stroke="#5c5cb0" stroke-width="0.7" stroke-opacity="1.0"/>
<path d="M324.6 86.7L328.74 84.4L328.74 89Z" fill="#000080"/>
<text x="337.9" y="89.6" font-size="8" text-anchor="start" fill="#262626">#11</text>
<line x1="318.4" y1="96.2" x2="335.4" y2="96.2" stroke="#b780ff" stroke-width="0.7" stroke-opacity="1.0"/>
<path d="M329.2 96.2L325.06 93.9L325.06 98.5Z" fill="#8000ff"/>
<text x="337.9" y="99.1" font-size="8" text-anchor="start" fill="#262626">#12</text>
<line x1="318.4" y1="105.7" x2="335.4" y2="105.7" stroke="#b070b0" stroke-width="0.7" stroke-opacity="1.0"/>
<circle cx="326.9" cy="105.7" r="1.75" fill="#800080"/>
<text x="337.9" y="108.6" font-size="8" text-anchor="start" fill="#262626">#13</text>
<line x1="318.4" y1="115.2" x2="335.4" y2="115.2" stroke="#b07070" stroke-width="0.7" stroke-opacity="1.0"/>
<path d="M326.9 113.2L327.43 114.47L328.8 114.58L327.76 115.48L328.08 116.82L326.9 116.1L325.72 116.82L326.04 115.48L325 114.58L326.37 114.47Z" fill="#800000"/>
<text x="337.9" y="118.1" font-size="8" text-anchor="start" fill="#262626">#14</text>
<line x1="27.2" y1="326.3" x2="27.2" y2="323.7" stroke="#7a7a7a" stroke-width="0.8"/>
<text x="27.2" y="336.6" font-size="9.5" text-anchor="middle" fill="#262626">0</text>
<line x1="63.3" y1="326.3" x2="63.3" y2="323.7" stroke="#7a7a7a" stroke-width="0.8"/>
<text x="63.3" y="336.6" font-size="9.5" text-anchor="middle" fill="#262626">110</text>
<line x1="99.4" y1="326.3" x2="99.4" y2="323.7" stroke="#7a7a7a" stroke-width="0.8"/>
<text x="99.4" y="336.6" font-size="9.5" text-anchor="middle" fill="#262626">220</text>
<line x1="135.5" y1="326.3" x2="135.5" y2="323.7" stroke="#7a7a7a" stroke-width="0.8"/>
<text x="135.5" y="336.6" font-size="9.5" text-anchor="middle" fill="#262626">330</text>
<line x1="171.6" y1="326.3" x2="171.6" y2="323.7" stroke="#7a7a7a" stroke-width="0.8"/>
<text x="171.6" y="336.6" font-size="9.5" text-anchor="middle" fill="#262626">440</text>
<line x1="207.7" y1="326.3" x2="207.7" y2="323.7" stroke="#7a7a7a" stroke-width="0.8"/>
<text x="207.7" y="336.6" font-size="9.5" text-anchor="middle" fill="#262626">550</text>
<line x1="27.2" y1="193.2" x2="29.8" y2="193.2" stroke="#7a7a7a" stroke-width="0.8"/>
<text x="24.2" y="196" font-size="9.5" text-anchor="end" fill="#262626">2</text>
<line x1="27.2" y1="219.82" x2="29.8" y2="219.82" stroke="#7a7a7a" stroke-width="0.8"/>
<text x="24.2" y="222.62" font-size="9.5" text-anchor="end" fill="#262626">1</text>
<line x1="27.2" y1="246.44" x2="29.8" y2="246.44" stroke="#7a7a7a" stroke-width="0.8"/>
<text x="24.2" y="249.24" font-size="9.5" text-anchor="end" fill="#262626">0</text>
<line x1="27.2" y1="273.06" x2="29.8" y2="273.06" stroke="#7a7a7a" stroke-width="0.8"/>
<text x="24.2" y="275.86" font-size="9.5" text-anchor="end" fill="#262626">-1</text>
<line x1="27.2" y1="299.68" x2="29.8" y2="299.68" stroke="#7a7a7a" stroke-width="0.8"/>
<text x="24.2" y="302.48" font-size="9.5" text-anchor="end" fill="#262626">-2</text>
<line x1="27.2" y1="326.3" x2="29.8" y2="326.3" stroke="#7a7a7a" stroke-width="0.8"/>
<text x="24.2" y="329.1" font-size="9.5" text-anchor="end" fill="#262626">-3</text>
<path d="M27.2 193.2V326.3H207.7" fill="none" stroke="#7a7a7a" stroke-width="1.3"/>
<line x1="112" y1="190.5" x2="112" y2="326.3" stroke="#666" stroke-width="1.1" stroke-dasharray="2.6,2.6"/>
<line x1="193.5" y1="190.5" x2="193.5" y2="326.3" stroke="#8c8c8c" stroke-width="1.4"/>
<text x="115.4" y="209.7" font-size="8" text-anchor="start" fill="#262626">Cracking</text>
<text x="169" y="209.7" font-size="8" text-anchor="start" fill="#262626">Failure</text>
<text transform="translate(16.8 255.6) rotate(-90)" font-size="10" text-anchor="middle" fill="#262626"><tspan font-style="italic">&#949;</tspan> / 10<tspan font-size="7.5" dy="-4">-3</tspan></text>
<text x="120.4" y="349.3" font-size="9.5" text-anchor="middle" fill="#262626"><tspan font-style="italic">P</tspan> / kN</text>
<text x="107.8" y="361.8" font-size="10" text-anchor="middle" font-weight="bold" fill="#262626">(e)</text>
<polyline points="27.2,246.4 39.6,246.4 54.3,246.4 68.5,246 83.6,246 90.5,246 97.6,246 104.5,246 111.8,245.9 118.9,245.9 126.1,245.9 133,245.9 140.3,245.9 147.2,245.9 154.4,245.9 161.3,245.9 166.5,245.9 175.9,245.9 186.4,245.9 193.6,244.8" fill="none" stroke="#8a8a8a" stroke-width="0.7" stroke-dasharray="2,1.5" stroke-opacity="0.6"/>
<rect x="25.6" y="244.8" width="3.2" height="3.2" fill="#000000"/>
<rect x="38" y="244.8" width="3.2" height="3.2" fill="#000000"/>
<rect x="52.7" y="244.8" width="3.2" height="3.2" fill="#000000"/>
<rect x="66.9" y="244.4" width="3.2" height="3.2" fill="#000000"/>
<rect x="82" y="244.4" width="3.2" height="3.2" fill="#000000"/>
<rect x="88.9" y="244.4" width="3.2" height="3.2" fill="#000000"/>
<rect x="96" y="244.4" width="3.2" height="3.2" fill="#000000"/>
<rect x="102.9" y="244.4" width="3.2" height="3.2" fill="#000000"/>
<rect x="110.2" y="244.3" width="3.2" height="3.2" fill="#000000"/>
<rect x="117.3" y="244.3" width="3.2" height="3.2" fill="#000000"/>
<rect x="124.5" y="244.3" width="3.2" height="3.2" fill="#000000"/>
<rect x="131.4" y="244.3" width="3.2" height="3.2" fill="#000000"/>
<rect x="138.7" y="244.3" width="3.2" height="3.2" fill="#000000"/>
<rect x="145.6" y="244.3" width="3.2" height="3.2" fill="#000000"/>
<rect x="152.8" y="244.3" width="3.2" height="3.2" fill="#000000"/>
<rect x="159.7" y="244.3" width="3.2" height="3.2" fill="#000000"/>
<rect x="164.9" y="244.3" width="3.2" height="3.2" fill="#000000"/>
<rect x="174.3" y="244.3" width="3.2" height="3.2" fill="#000000"/>
<rect x="184.8" y="244.3" width="3.2" height="3.2" fill="#000000"/>
<rect x="192" y="243.2" width="3.2" height="3.2" fill="#000000"/>
<polyline points="27.2,246.4 39.6,247.6 54.3,248.6 68.5,249.6 83.6,250.3 90.5,250.5 97.6,250.5 104.5,250.6 111.8,250.7 118.9,251.3 126.1,251.3 133,251.3 140.3,251.7 147.2,252.2 154.4,252.2 161.3,252.2 166.5,252.2 175.9,252.8 186.4,252.8 193.6,253.8" fill="none" stroke="#f07cf0" stroke-width="0.7" stroke-dasharray="2,1.5" stroke-opacity="0.6"/>
<path d="M27.2 248.4L29.2 244.8L25.2 244.8Z" fill="#ff00ff"/>
<path d="M39.6 249.6L41.6 246L37.6 246Z" fill="#ff00ff"/>
<path d="M54.3 250.6L56.3 247L52.3 247Z" fill="#ff00ff"/>
<path d="M68.5 251.6L70.5 248L66.5 248Z" fill="#ff00ff"/>
<path d="M83.6 252.3L85.6 248.7L81.6 248.7Z" fill="#ff00ff"/>
<path d="M90.5 252.5L92.5 248.9L88.5 248.9Z" fill="#ff00ff"/>
<path d="M97.6 252.5L99.6 248.9L95.6 248.9Z" fill="#ff00ff"/>
<path d="M104.5 252.6L106.5 249L102.5 249Z" fill="#ff00ff"/>
<path d="M111.8 252.7L113.8 249.1L109.8 249.1Z" fill="#ff00ff"/>
<path d="M118.9 253.3L120.9 249.7L116.9 249.7Z" fill="#ff00ff"/>
<path d="M126.1 253.3L128.1 249.7L124.1 249.7Z" fill="#ff00ff"/>
<path d="M133 253.3L135 249.7L131 249.7Z" fill="#ff00ff"/>
<path d="M140.3 253.7L142.3 250.1L138.3 250.1Z" fill="#ff00ff"/>
<path d="M147.2 254.2L149.2 250.6L145.2 250.6Z" fill="#ff00ff"/>
<path d="M154.4 254.2L156.4 250.6L152.4 250.6Z" fill="#ff00ff"/>
<path d="M161.3 254.2L163.3 250.6L159.3 250.6Z" fill="#ff00ff"/>
<path d="M166.5 254.2L168.5 250.6L164.5 250.6Z" fill="#ff00ff"/>
<path d="M175.9 254.8L177.9 251.2L173.9 251.2Z" fill="#ff00ff"/>
<path d="M186.4 254.8L188.4 251.2L184.4 251.2Z" fill="#ff00ff"/>
<path d="M193.6 255.8L195.6 252.2L191.6 252.2Z" fill="#ff00ff"/>
<polyline points="27.2,246.4 39.6,246.4 54.3,246.4 68.5,246.4 83.6,246.4 90.5,246.4 97.6,246.4 104.5,246.5 111.8,246.9 118.9,247.6 126.1,248.6 133,249.6 140.3,250.3 147.2,251.7 154.4,254.9 161.3,257 166.5,259.5 175.9,262.6 186.4,267.4 193.6,273.7" fill="none" stroke="#ff8080" stroke-width="0.7" stroke-opacity="0.6"/>
<circle cx="27.2" cy="246.4" r="1.75" fill="#ff0000"/>
<circle cx="39.6" cy="246.4" r="1.75" fill="#ff0000"/>
<circle cx="54.3" cy="246.4" r="1.75" fill="#ff0000"/>
<circle cx="68.5" cy="246.4" r="1.75" fill="#ff0000"/>
<circle cx="83.6" cy="246.4" r="1.75" fill="#ff0000"/>
<circle cx="90.5" cy="246.4" r="1.75" fill="#ff0000"/>
<circle cx="97.6" cy="246.4" r="1.75" fill="#ff0000"/>
<circle cx="104.5" cy="246.5" r="1.75" fill="#ff0000"/>
<circle cx="111.8" cy="246.9" r="1.75" fill="#ff0000"/>
<circle cx="118.9" cy="247.6" r="1.75" fill="#ff0000"/>
<circle cx="126.1" cy="248.6" r="1.75" fill="#ff0000"/>
<circle cx="133" cy="249.6" r="1.75" fill="#ff0000"/>
<circle cx="140.3" cy="250.3" r="1.75" fill="#ff0000"/>
<circle cx="147.2" cy="251.7" r="1.75" fill="#ff0000"/>
<circle cx="154.4" cy="254.9" r="1.75" fill="#ff0000"/>
<circle cx="161.3" cy="257" r="1.75" fill="#ff0000"/>
<circle cx="166.5" cy="259.5" r="1.75" fill="#ff0000"/>
<circle cx="175.9" cy="262.6" r="1.75" fill="#ff0000"/>
<circle cx="186.4" cy="267.4" r="1.75" fill="#ff0000"/>
<circle cx="193.6" cy="273.7" r="1.75" fill="#ff0000"/>
<polyline points="27.2,246.4 39.6,246.5 54.3,246.5 68.5,249.6 83.6,255.9 90.5,256.5 97.6,260.5 104.5,262.2 111.8,264.9 118.9,266.8 126.1,268.9 133,270.6 140.3,272 147.2,273.7 154.4,275.4 161.3,277.9 166.5,279.6 175.9,284.6 186.4,290.4 193.6,302.6" fill="none" stroke="#7f7fff" stroke-width="0.7" stroke-opacity="0.6"/>
<path d="M27.2 244.4L29.2 248L25.2 248Z" fill="#0000ff"/>
<path d="M39.6 244.5L41.6 248.1L37.6 248.1Z" fill="#0000ff"/>
<path d="M54.3 244.5L56.3 248.1L52.3 248.1Z" fill="#0000ff"/>
<path d="M68.5 247.6L70.5 251.2L66.5 251.2Z" fill="#0000ff"/>
<path d="M83.6 253.9L85.6 257.5L81.6 257.5Z" fill="#0000ff"/>
<path d="M90.5 254.5L92.5 258.1L88.5 258.1Z" fill="#0000ff"/>
<path d="M97.6 258.5L99.6 262.1L95.6 262.1Z" fill="#0000ff"/>
<path d="M104.5 260.2L106.5 263.8L102.5 263.8Z" fill="#0000ff"/>
<path d="M111.8 262.9L113.8 266.5L109.8 266.5Z" fill="#0000ff"/>
<path d="M118.9 264.8L120.9 268.4L116.9 268.4Z" fill="#0000ff"/>
<path d="M126.1 266.9L128.1 270.5L124.1 270.5Z" fill="#0000ff"/>
<path d="M133 268.6L135 272.2L131 272.2Z" fill="#0000ff"/>
<path d="M140.3 270L142.3 273.6L138.3 273.6Z" fill="#0000ff"/>
<path d="M147.2 271.7L149.2 275.3L145.2 275.3Z" fill="#0000ff"/>
<path d="M154.4 273.4L156.4 277L152.4 277Z" fill="#0000ff"/>
<path d="M161.3 275.9L163.3 279.5L159.3 279.5Z" fill="#0000ff"/>
<path d="M166.5 277.6L168.5 281.2L164.5 281.2Z" fill="#0000ff"/>
<path d="M175.9 282.6L177.9 286.2L173.9 286.2Z" fill="#0000ff"/>
<path d="M186.4 288.4L188.4 292L184.4 292Z" fill="#0000ff"/>
<path d="M193.6 300.6L195.6 304.2L191.6 304.2Z" fill="#0000ff"/>
<polyline points="27.2,246.4 39.6,252.8 54.3,258 68.5,262.2 83.6,266.4 90.5,267 97.6,268.5 104.5,269.5 111.8,271 118.9,272.7 126.1,274.1 133,275.8 140.3,276.8 147.2,278.5 154.4,280.6 161.3,283.1 166.5,285.2 175.9,290.4 186.4,295.7 193.6,306.4" fill="none" stroke="#74b874" stroke-width="0.7" stroke-opacity="0.6"/>
<path d="M27.2 244.35L29.25 246.4L27.2 248.45L25.15 246.4Z" fill="#006f00"/>
<path d="M39.6 250.75L41.65 252.8L39.6 254.85L37.55 252.8Z" fill="#006f00"/>
<path d="M54.3 255.95L56.35 258L54.3 260.05L52.25 258Z" fill="#006f00"/>
<path d="M68.5 260.15L70.55 262.2L68.5 264.25L66.45 262.2Z" fill="#006f00"/>
<path d="M83.6 264.35L85.65 266.4L83.6 268.45L81.55 266.4Z" fill="#006f00"/>
<path d="M90.5 264.95L92.55 267L90.5 269.05L88.45 267Z" fill="#006f00"/>
<path d="M97.6 266.45L99.65 268.5L97.6 270.55L95.55 268.5Z" fill="#006f00"/>
<path d="M104.5 267.45L106.55 269.5L104.5 271.55L102.45 269.5Z" fill="#006f00"/>
<path d="M111.8 268.95L113.85 271L111.8 273.05L109.75 271Z" fill="#006f00"/>
<path d="M118.9 270.65L120.95 272.7L118.9 274.75L116.85 272.7Z" fill="#006f00"/>
<path d="M126.1 272.05L128.15 274.1L126.1 276.15L124.05 274.1Z" fill="#006f00"/>
<path d="M133 273.75L135.05 275.8L133 277.85L130.95 275.8Z" fill="#006f00"/>
<path d="M140.3 274.75L142.35 276.8L140.3 278.85L138.25 276.8Z" fill="#006f00"/>
<path d="M147.2 276.45L149.25 278.5L147.2 280.55L145.15 278.5Z" fill="#006f00"/>
<path d="M154.4 278.55L156.45 280.6L154.4 282.65L152.35 280.6Z" fill="#006f00"/>
<path d="M161.3 281.05L163.35 283.1L161.3 285.15L159.25 283.1Z" fill="#006f00"/>
<path d="M166.5 283.15L168.55 285.2L166.5 287.25L164.45 285.2Z" fill="#006f00"/>
<path d="M175.9 288.35L177.95 290.4L175.9 292.45L173.85 290.4Z" fill="#006f00"/>
<path d="M186.4 293.65L188.45 295.7L186.4 297.75L184.35 295.7Z" fill="#006f00"/>
<path d="M193.6 304.35L195.65 306.4L193.6 308.45L191.55 306.4Z" fill="#006f00"/>
<line x1="37.9" y1="191" x2="54.9" y2="191" stroke="#ddd" stroke-width="0.7" stroke-opacity="1.0"/>
<rect x="44.8" y="189.4" width="3.2" height="3.2" fill="#000000"/>
<text x="57.4" y="193.9" font-size="8" text-anchor="start" fill="#262626">#1</text>
<path d="M46.4 202.7L48.4 199.1L44.4 199.1Z" fill="#ff00ff"/>
<text x="57.4" y="203.6" font-size="8" text-anchor="start" fill="#262626">#2</text>
<circle cx="46.4" cy="210.1" r="1.75" fill="#ff0000"/>
<text x="57.4" y="213" font-size="8" text-anchor="start" fill="#262626">#3</text>
<path d="M46.4 217.9L48.4 221.5L44.4 221.5Z" fill="#0000ff"/>
<text x="57.4" y="222.8" font-size="8" text-anchor="start" fill="#262626">#4</text>
<line x1="37.9" y1="229.6" x2="54.9" y2="229.6" stroke="#cec" stroke-width="0.7" stroke-opacity="1.0"/>
<path d="M46.4 227.55L48.45 229.6L46.4 231.65L44.35 229.6Z" fill="#006f00"/>
<text x="57.4" y="232.5" font-size="8" text-anchor="start" fill="#262626">#5</text>
<line x1="279.6" y1="325.3" x2="279.6" y2="322.7" stroke="#7a7a7a" stroke-width="0.8"/>
<text x="279.6" y="335.6" font-size="9.5" text-anchor="middle" fill="#262626">0</text>
<line x1="315.82" y1="325.3" x2="315.82" y2="322.7" stroke="#7a7a7a" stroke-width="0.8"/>
<text x="315.82" y="335.6" font-size="9.5" text-anchor="middle" fill="#262626">110</text>
<line x1="352.04" y1="325.3" x2="352.04" y2="322.7" stroke="#7a7a7a" stroke-width="0.8"/>
<text x="352.04" y="335.6" font-size="9.5" text-anchor="middle" fill="#262626">220</text>
<line x1="388.26" y1="325.3" x2="388.26" y2="322.7" stroke="#7a7a7a" stroke-width="0.8"/>
<text x="388.26" y="335.6" font-size="9.5" text-anchor="middle" fill="#262626">330</text>
<line x1="424.48" y1="325.3" x2="424.48" y2="322.7" stroke="#7a7a7a" stroke-width="0.8"/>
<text x="424.48" y="335.6" font-size="9.5" text-anchor="middle" fill="#262626">440</text>
<line x1="460.7" y1="325.3" x2="460.7" y2="322.7" stroke="#7a7a7a" stroke-width="0.8"/>
<text x="460.7" y="335.6" font-size="9.5" text-anchor="middle" fill="#262626">550</text>
<line x1="279.6" y1="192.3" x2="282.2" y2="192.3" stroke="#7a7a7a" stroke-width="0.8"/>
<text x="276.6" y="195.1" font-size="9.5" text-anchor="end" fill="#262626">1.5</text>
<line x1="279.6" y1="236.63" x2="282.2" y2="236.63" stroke="#7a7a7a" stroke-width="0.8"/>
<text x="276.6" y="239.43" font-size="9.5" text-anchor="end" fill="#262626">0.0</text>
<line x1="279.6" y1="280.97" x2="282.2" y2="280.97" stroke="#7a7a7a" stroke-width="0.8"/>
<text x="276.6" y="283.77" font-size="9.5" text-anchor="end" fill="#262626">-1.5</text>
<line x1="279.6" y1="325.3" x2="282.2" y2="325.3" stroke="#7a7a7a" stroke-width="0.8"/>
<text x="276.6" y="328.1" font-size="9.5" text-anchor="end" fill="#262626">-3.0</text>
<path d="M279.6 192.3V325.3H460.7" fill="none" stroke="#7a7a7a" stroke-width="1.3"/>
<line x1="371.7" y1="190.5" x2="371.7" y2="325.3" stroke="#666" stroke-width="1.1" stroke-dasharray="2.6,2.6"/>
<line x1="447" y1="190.5" x2="447" y2="325.3" stroke="#555" stroke-width="1.1"/>
<text x="337.8" y="209.2" font-size="8" text-anchor="start" fill="#262626">Cracking</text>
<text x="420.3" y="208.7" font-size="8" text-anchor="start" fill="#262626">Failure</text>
<text transform="translate(260.2 259) rotate(-90)" font-size="10" text-anchor="middle" fill="#262626"><tspan font-style="italic">&#949;</tspan> / 10<tspan font-size="7.5" dy="-4">-3</tspan></text>
<text x="370.2" y="349.3" font-size="9.5" text-anchor="middle" fill="#262626"><tspan font-style="italic">P</tspan> / kN</text>
<text x="355.6" y="361.8" font-size="10" text-anchor="middle" font-weight="normal" fill="#262626">(f)</text>
<polyline points="279.6,236.6 292.4,238.9 306.8,241 321.4,243.7 336.1,247.3 343,247.9 350.3,249.4 357.2,250.6 364.5,252.5 371.5,254.4 378.7,256.5 385.5,258.6 392.7,260.6 400.1,263.2 407,266 414,269.2 419.6,271.5 428.8,275.4 439.3,281.4 446.6,288.6" fill="none" stroke="#8a8a8a" stroke-width="0.7" stroke-dasharray="2,1.5" stroke-opacity="0.75"/>
<rect x="278" y="235" width="3.2" height="3.2" fill="#000000"/>
<rect x="290.8" y="237.3" width="3.2" height="3.2" fill="#000000"/>
<rect x="305.2" y="239.4" width="3.2" height="3.2" fill="#000000"/>
<rect x="319.8" y="242.1" width="3.2" height="3.2" fill="#000000"/>
<rect x="334.5" y="245.7" width="3.2" height="3.2" fill="#000000"/>
<rect x="341.4" y="246.3" width="3.2" height="3.2" fill="#000000"/>
<rect x="348.7" y="247.8" width="3.2" height="3.2" fill="#000000"/>
<rect x="355.6" y="249" width="3.2" height="3.2" fill="#000000"/>
<rect x="362.9" y="250.9" width="3.2" height="3.2" fill="#000000"/>
<rect x="369.9" y="252.8" width="3.2" height="3.2" fill="#000000"/>
<rect x="377.1" y="254.9" width="3.2" height="3.2" fill="#000000"/>
<rect x="383.9" y="257" width="3.2" height="3.2" fill="#000000"/>
<rect x="391.1" y="259" width="3.2" height="3.2" fill="#000000"/>
<rect x="398.5" y="261.6" width="3.2" height="3.2" fill="#000000"/>
<rect x="405.4" y="264.4" width="3.2" height="3.2" fill="#000000"/>
<rect x="412.4" y="267.6" width="3.2" height="3.2" fill="#000000"/>
<rect x="418" y="269.9" width="3.2" height="3.2" fill="#000000"/>
<rect x="427.2" y="273.8" width="3.2" height="3.2" fill="#000000"/>
<rect x="437.7" y="279.8" width="3.2" height="3.2" fill="#000000"/>
<rect x="445" y="287" width="3.2" height="3.2" fill="#000000"/>
<polyline points="279.6,236.6 292.4,237.4 306.8,237.8 321.4,238.5 336.1,239.1 343,239.1 350.3,239.9 357.2,240.6 364.5,241 371.5,241.7 378.7,242.4 385.5,243.1 392.7,243.6 400.1,244.4 407,245.4 414,246 419.6,246.5 428.8,247.2 439.3,248.2 446.6,249.2" fill="none" stroke="#ff8080" stroke-width="0.7" stroke-dasharray="2,1.5" stroke-opacity="0.75"/>
<circle cx="279.6" cy="236.6" r="1.75" fill="#ff0000"/>
<circle cx="292.4" cy="237.4" r="1.75" fill="#ff0000"/>
<circle cx="306.8" cy="237.8" r="1.75" fill="#ff0000"/>
<circle cx="321.4" cy="238.5" r="1.75" fill="#ff0000"/>
<circle cx="336.1" cy="239.1" r="1.75" fill="#ff0000"/>
<circle cx="343" cy="239.1" r="1.75" fill="#ff0000"/>
<circle cx="350.3" cy="239.9" r="1.75" fill="#ff0000"/>
<circle cx="357.2" cy="240.6" r="1.75" fill="#ff0000"/>
<circle cx="364.5" cy="241" r="1.75" fill="#ff0000"/>
<circle cx="371.5" cy="241.7" r="1.75" fill="#ff0000"/>
<circle cx="378.7" cy="242.4" r="1.75" fill="#ff0000"/>
<circle cx="385.5" cy="243.1" r="1.75" fill="#ff0000"/>
<circle cx="392.7" cy="243.6" r="1.75" fill="#ff0000"/>
<circle cx="400.1" cy="244.4" r="1.75" fill="#ff0000"/>
<circle cx="407" cy="245.4" r="1.75" fill="#ff0000"/>
<circle cx="414" cy="246" r="1.75" fill="#ff0000"/>
<circle cx="419.6" cy="246.5" r="1.75" fill="#ff0000"/>
<circle cx="428.8" cy="247.2" r="1.75" fill="#ff0000"/>
<circle cx="439.3" cy="248.2" r="1.75" fill="#ff0000"/>
<circle cx="446.6" cy="249.2" r="1.75" fill="#ff0000"/>
<polyline points="279.6,236.6 292.4,236.8 306.8,236.4 321.4,236.4 336.1,235.3 343,235.3 350.3,234.9 357.2,234.7 364.5,234.3 371.5,233.5 378.7,232.8 385.5,232.2 392.7,229.1 400.1,225.9 407,224.9 414,223.8 419.6,223.4 428.8,224.9 439.3,225.3 446.6,225.9" fill="none" stroke="#7f7fff" stroke-width="0.7" stroke-dasharray="2,1.5" stroke-opacity="0.75"/>
<path d="M279.6 234.6L281.6 238.2L277.6 238.2Z" fill="#0000ff"/>
<path d="M292.4 234.8L294.4 238.4L290.4 238.4Z" fill="#0000ff"/>
<path d="M306.8 234.4L308.8 238L304.8 238Z" fill="#0000ff"/>
<path d="M321.4 234.4L323.4 238L319.4 238Z" fill="#0000ff"/>
<path d="M336.1 233.3L338.1 236.9L334.1 236.9Z" fill="#0000ff"/>
<path d="M343 233.3L345 236.9L341 236.9Z" fill="#0000ff"/>
<path d="M350.3 232.9L352.3 236.5L348.3 236.5Z" fill="#0000ff"/>
<path d="M357.2 232.7L359.2 236.3L355.2 236.3Z" fill="#0000ff"/>
<path d="M364.5 232.3L366.5 235.9L362.5 235.9Z" fill="#0000ff"/>
<path d="M371.5 231.5L373.5 235.1L369.5 235.1Z" fill="#0000ff"/>
<path d="M378.7 230.8L380.7 234.4L376.7 234.4Z" fill="#0000ff"/>
<path d="M385.5 230.2L387.5 233.8L383.5 233.8Z" fill="#0000ff"/>
<path d="M392.7 227.1L394.7 230.7L390.7 230.7Z" fill="#0000ff"/>
<path d="M400.1 223.9L402.1 227.5L398.1 227.5Z" fill="#0000ff"/>
<path d="M407 222.9L409 226.5L405 226.5Z" fill="#0000ff"/>
<path d="M414 221.8L416 225.4L412 225.4Z" fill="#0000ff"/>
<path d="M419.6 221.4L421.6 225L417.6 225Z" fill="#0000ff"/>
<path d="M428.8 222.9L430.8 226.5L426.8 226.5Z" fill="#0000ff"/>
<path d="M439.3 223.3L441.3 226.9L437.3 226.9Z" fill="#0000ff"/>
<path d="M446.6 223.9L448.6 227.5L444.6 227.5Z" fill="#0000ff"/>
<polyline points="279.6,236.6 292.4,236 306.8,235 321.4,234 336.1,232.5 343,232 350.3,231.5 357.2,231 364.5,230.5 371.5,230 378.7,230 385.5,230 392.7,230.5 400.1,231 407,231.5 414,231.8 419.6,232 428.8,232.2 439.3,232.6 446.6,233" fill="none" stroke="#f07cf0" stroke-width="0.7" stroke-dasharray="2,1.5" stroke-opacity="0.75"/>
<path d="M279.6 238.6L281.6 235L277.6 235Z" fill="#ff00ff"/>
<path d="M292.4 238L294.4 234.4L290.4 234.4Z" fill="#ff00ff"/>
<path d="M306.8 237L308.8 233.4L304.8 233.4Z" fill="#ff00ff"/>
<path d="M321.4 236L323.4 232.4L319.4 232.4Z" fill="#ff00ff"/>
<path d="M336.1 234.5L338.1 230.9L334.1 230.9Z" fill="#ff00ff"/>
<path d="M343 234L345 230.4L341 230.4Z" fill="#ff00ff"/>
<path d="M350.3 233.5L352.3 229.9L348.3 229.9Z" fill="#ff00ff"/>
<path d="M357.2 233L359.2 229.4L355.2 229.4Z" fill="#ff00ff"/>
<path d="M364.5 232.5L366.5 228.9L362.5 228.9Z" fill="#ff00ff"/>
<path d="M371.5 232L373.5 228.4L369.5 228.4Z" fill="#ff00ff"/>
<path d="M378.7 232L380.7 228.4L376.7 228.4Z" fill="#ff00ff"/>
<path d="M385.5 232L387.5 228.4L383.5 228.4Z" fill="#ff00ff"/>
<path d="M392.7 232.5L394.7 228.9L390.7 228.9Z" fill="#ff00ff"/>
<path d="M400.1 233L402.1 229.4L398.1 229.4Z" fill="#ff00ff"/>
<path d="M407 233.5L409 229.9L405 229.9Z" fill="#ff00ff"/>
<path d="M414 233.8L416 230.2L412 230.2Z" fill="#ff00ff"/>
<path d="M419.6 234L421.6 230.4L417.6 230.4Z" fill="#ff00ff"/>
<path d="M428.8 234.2L430.8 230.6L426.8 230.6Z" fill="#ff00ff"/>
<path d="M439.3 234.6L441.3 231L437.3 231Z" fill="#ff00ff"/>
<path d="M446.6 235L448.6 231.4L444.6 231.4Z" fill="#ff00ff"/>
<polyline points="279.6,236.6 292.4,236 306.8,234.5 321.4,233 336.1,231.2 343,231.2 350.3,230.7 357.2,230.7 364.5,230.5 371.5,230.5 378.7,231.8 385.5,231.8 392.7,232.2 400.1,232.6 407,232.8 414,232.8 419.6,232.8 428.8,232.8 439.3,232.8 446.6,232.8" fill="none" stroke="#74b874" stroke-width="0.7" stroke-dasharray="2,1.5" stroke-opacity="0.75"/>
<path d="M279.6 234.55L281.65 236.6L279.6 238.65L277.55 236.6Z" fill="#006f00"/>
<path d="M292.4 233.95L294.45 236L292.4 238.05L290.35 236Z" fill="#006f00"/>
<path d="M306.8 232.45L308.85 234.5L306.8 236.55L304.75 234.5Z" fill="#006f00"/>
<path d="M321.4 230.95L323.45 233L321.4 235.05L319.35 233Z" fill="#006f00"/>
<path d="M336.1 229.15L338.15 231.2L336.1 233.25L334.05 231.2Z" fill="#006f00"/>
<path d="M343 229.15L345.05 231.2L343 233.25L340.95 231.2Z" fill="#006f00"/>
<path d="M350.3 228.65L352.35 230.7L350.3 232.75L348.25 230.7Z" fill="#006f00"/>
<path d="M357.2 228.65L359.25 230.7L357.2 232.75L355.15 230.7Z" fill="#006f00"/>
<path d="M364.5 228.45L366.55 230.5L364.5 232.55L362.45 230.5Z" fill="#006f00"/>
<path d="M371.5 228.45L373.55 230.5L371.5 232.55L369.45 230.5Z" fill="#006f00"/>
<path d="M378.7 229.75L380.75 231.8L378.7 233.85L376.65 231.8Z" fill="#006f00"/>
<path d="M385.5 229.75L387.55 231.8L385.5 233.85L383.45 231.8Z" fill="#006f00"/>
<path d="M392.7 230.15L394.75 232.2L392.7 234.25L390.65 232.2Z" fill="#006f00"/>
<path d="M400.1 230.55L402.15 232.6L400.1 234.65L398.05 232.6Z" fill="#006f00"/>
<path d="M407 230.75L409.05 232.8L407 234.85L404.95 232.8Z" fill="#006f00"/>
<path d="M414 230.75L416.05 232.8L414 234.85L411.95 232.8Z" fill="#006f00"/>
<path d="M419.6 230.75L421.65 232.8L419.6 234.85L417.55 232.8Z" fill="#006f00"/>
<path d="M428.8 230.75L430.85 232.8L428.8 234.85L426.75 232.8Z" fill="#006f00"/>
<path d="M439.3 230.75L441.35 232.8L439.3 234.85L437.25 232.8Z" fill="#006f00"/>
<path d="M446.6 230.75L448.65 232.8L446.6 234.85L444.55 232.8Z" fill="#006f00"/>
<polyline points="279.6,236.6 292.4,235 306.8,233 321.4,231 336.1,229 343,228.5 350.3,228 357.2,227 364.5,226 371.5,224 378.7,195.1" fill="none" stroke="#5c5cb0" stroke-width="0.7" stroke-opacity="0.75"/>
<path d="M277.3 236.6L281.44 234.3L281.44 238.9Z" fill="#000080"/>
<path d="M290.1 235L294.24 232.7L294.24 237.3Z" fill="#000080"/>
<path d="M304.5 233L308.64 230.7L308.64 235.3Z" fill="#000080"/>
<path d="M319.1 231L323.24 228.7L323.24 233.3Z" fill="#000080"/>
<path d="M333.8 229L337.94 226.7L337.94 231.3Z" fill="#000080"/>
<path d="M340.7 228.5L344.84 226.2L344.84 230.8Z" fill="#000080"/>
<path d="M348 228L352.14 225.7L352.14 230.3Z" fill="#000080"/>
<path d="M354.9 227L359.04 224.7L359.04 229.3Z" fill="#000080"/>
<path d="M362.2 226L366.34 223.7L366.34 228.3Z" fill="#000080"/>
<path d="M369.2 224L373.34 221.7L373.34 226.3Z" fill="#000080"/>
<path d="M376.4 195.1L380.54 192.8L380.54 197.4Z" fill="#000080"/>
<polyline points="279.6,236.6 292.4,235.5 306.8,234 321.4,232.5 336.1,230 343,229.5 350.3,228.5 357.2,227.5 364.5,226.5 371.5,225.9 378.7,226.5 385.5,227.6 392.7,228 400.1,230.1 407,231.2 414,231.6 419.6,231.8 428.8,232.2 439.3,232.6 446.6,233.2" fill="none" stroke="#b780ff" stroke-width="0.7" stroke-dasharray="2,1.5" stroke-opacity="0.75"/>
<path d="M281.9 236.6L277.76 234.3L277.76 238.9Z" fill="#8000ff"/>
<path d="M294.7 235.5L290.56 233.2L290.56 237.8Z" fill="#8000ff"/>
<path d="M309.1 234L304.96 231.7L304.96 236.3Z" fill="#8000ff"/>
<path d="M323.7 232.5L319.56 230.2L319.56 234.8Z" fill="#8000ff"/>
<path d="M338.4 230L334.26 227.7L334.26 232.3Z" fill="#8000ff"/>
<path d="M345.3 229.5L341.16 227.2L341.16 231.8Z" fill="#8000ff"/>
<path d="M352.6 228.5L348.46 226.2L348.46 230.8Z" fill="#8000ff"/>
<path d="M359.5 227.5L355.36 225.2L355.36 229.8Z" fill="#8000ff"/>
<path d="M366.8 226.5L362.66 224.2L362.66 228.8Z" fill="#8000ff"/>
<path d="M373.8 225.9L369.66 223.6L369.66 228.2Z" fill="#8000ff"/>
<path d="M381 226.5L376.86 224.2L376.86 228.8Z" fill="#8000ff"/>
<path d="M387.8 227.6L383.66 225.3L383.66 229.9Z" fill="#8000ff"/>
<path d="M395 228L390.86 225.7L390.86 230.3Z" fill="#8000ff"/>
<path d="M402.4 230.1L398.26 227.8L398.26 232.4Z" fill="#8000ff"/>
<path d="M409.3 231.2L405.16 228.9L405.16 233.5Z" fill="#8000ff"/>
<path d="M416.3 231.6L412.16 229.3L412.16 233.9Z" fill="#8000ff"/>
<path d="M421.9 231.8L417.76 229.5L417.76 234.1Z" fill="#8000ff"/>
<path d="M431.1 232.2L426.96 229.9L426.96 234.5Z" fill="#8000ff"/>
<path d="M441.6 232.6L437.46 230.3L437.46 234.9Z" fill="#8000ff"/>
<path d="M448.9 233.2L444.76 230.9L444.76 235.5Z" fill="#8000ff"/>
<polyline points="279.6,236.6 292.4,234.3 306.8,232.6 321.4,231.2 336.1,227.6 343,227.4 350.3,225.9 357.2,225.3 364.5,224.2 371.5,222.8 378.7,216.4 385.5,195.1" fill="none" stroke="#b070b0" stroke-width="0.7" stroke-opacity="0.75"/>
<circle cx="279.6" cy="236.6" r="1.75" fill="#800080"/>
<circle cx="292.4" cy="234.3" r="1.75" fill="#800080"/>
<circle cx="306.8" cy="232.6" r="1.75" fill="#800080"/>
<circle cx="321.4" cy="231.2" r="1.75" fill="#800080"/>
<circle cx="336.1" cy="227.6" r="1.75" fill="#800080"/>
<circle cx="343" cy="227.4" r="1.75" fill="#800080"/>
<circle cx="350.3" cy="225.9" r="1.75" fill="#800080"/>
<circle cx="357.2" cy="225.3" r="1.75" fill="#800080"/>
<circle cx="364.5" cy="224.2" r="1.75" fill="#800080"/>
<circle cx="371.5" cy="222.8" r="1.75" fill="#800080"/>
<circle cx="378.7" cy="216.4" r="1.75" fill="#800080"/>
<circle cx="385.5" cy="195.1" r="1.75" fill="#800080"/>
<polyline points="279.6,236.6 292.4,234.5 306.8,233 321.4,231.5 336.1,228.5 343,228 350.3,227 357.2,226 364.5,225 371.5,223.4 378.7,223.4 385.5,223 392.7,222.6 400.1,222.2 407,221.3 414,221.1 419.6,221.1 428.8,221.3 439.3,221.7 446.6,223.4" fill="none" stroke="#b07070" stroke-width="0.7" stroke-dasharray="2,1.5" stroke-opacity="0.75"/>
<path d="M279.6 234.6L280.13 235.87L281.5 235.98L280.46 236.88L280.78 238.22L279.6 237.5L278.42 238.22L278.74 236.88L277.7 235.98L279.07 235.87Z" fill="#800000"/>
<path d="M292.4 232.5L292.93 233.77L294.3 233.88L293.26 234.78L293.58 236.12L292.4 235.4L291.22 236.12L291.54 234.78L290.5 233.88L291.87 233.77Z" fill="#800000"/>
<path d="M306.8 231L307.33 232.27L308.7 232.38L307.66 233.28L307.98 234.62L306.8 233.9L305.62 234.62L305.94 233.28L304.9 232.38L306.27 232.27Z" fill="#800000"/>
<path d="M321.4 229.5L321.93 230.77L323.3 230.88L322.26 231.78L322.58 233.12L321.4 232.4L320.22 233.12L320.54 231.78L319.5 230.88L320.87 230.77Z" fill="#800000"/>
<path d="M336.1 226.5L336.63 227.77L338 227.88L336.96 228.78L337.28 230.12L336.1 229.4L334.92 230.12L335.24 228.78L334.2 227.88L335.57 227.77Z" fill="#800000"/>
<path d="M343 226L343.53 227.27L344.9 227.38L343.86 228.28L344.18 229.62L343 228.9L341.82 229.62L342.14 228.28L341.1 227.38L342.47 227.27Z" fill="#800000"/>
<path d="M350.3 225L350.83 226.27L352.2 226.38L351.16 227.28L351.48 228.62L350.3 227.9L349.12 228.62L349.44 227.28L348.4 226.38L349.77 226.27Z" fill="#800000"/>
<path d="M357.2 224L357.73 225.27L359.1 225.38L358.06 226.28L358.38 227.62L357.2 226.9L356.02 227.62L356.34 226.28L355.3 225.38L356.67 225.27Z" fill="#800000"/>
<path d="M364.5 223L365.03 224.27L366.4 224.38L365.36 225.28L365.68 226.62L364.5 225.9L363.32 226.62L363.64 225.28L362.6 224.38L363.97 224.27Z" fill="#800000"/>
<path d="M371.5 221.4L372.03 222.67L373.4 222.78L372.36 223.68L372.68 225.02L371.5 224.3L370.32 225.02L370.64 223.68L369.6 222.78L370.97 222.67Z" fill="#800000"/>
<path d="M378.7 221.4L379.23 222.67L380.6 222.78L379.56 223.68L379.88 225.02L378.7 224.3L377.52 225.02L377.84 223.68L376.8 222.78L378.17 222.67Z" fill="#800000"/>
<path d="M385.5 221L386.03 222.27L387.4 222.38L386.36 223.28L386.68 224.62L385.5 223.9L384.32 224.62L384.64 223.28L383.6 222.38L384.97 222.27Z" fill="#800000"/>
<path d="M392.7 220.6L393.23 221.87L394.6 221.98L393.56 222.88L393.88 224.22L392.7 223.5L391.52 224.22L391.84 222.88L390.8 221.98L392.17 221.87Z" fill="#800000"/>
<path d="M400.1 220.2L400.63 221.47L402 221.58L400.96 222.48L401.28 223.82L400.1 223.1L398.92 223.82L399.24 222.48L398.2 221.58L399.57 221.47Z" fill="#800000"/>
<path d="M407 219.3L407.53 220.57L408.9 220.68L407.86 221.58L408.18 222.92L407 222.2L405.82 222.92L406.14 221.58L405.1 220.68L406.47 220.57Z" fill="#800000"/>
<path d="M414 219.1L414.53 220.37L415.9 220.48L414.86 221.38L415.18 222.72L414 222L412.82 222.72L413.14 221.38L412.1 220.48L413.47 220.37Z" fill="#800000"/>
<path d="M419.6 219.1L420.13 220.37L421.5 220.48L420.46 221.38L420.78 222.72L419.6 222L418.42 222.72L418.74 221.38L417.7 220.48L419.07 220.37Z" fill="#800000"/>
<path d="M428.8 219.3L429.33 220.57L430.7 220.68L429.66 221.58L429.98 222.92L428.8 222.2L427.62 222.92L427.94 221.58L426.9 220.68L428.27 220.57Z" fill="#800000"/>
<path d="M439.3 219.7L439.83 220.97L441.2 221.08L440.16 221.98L440.48 223.32L439.3 222.6L438.12 223.32L438.44 221.98L437.4 221.08L438.77 220.97Z" fill="#800000"/>
<path d="M446.6 221.4L447.13 222.67L448.5 222.78L447.46 223.68L447.78 225.02L446.6 224.3L445.42 225.02L445.74 223.68L444.7 222.78L446.07 222.67Z" fill="#800000"/>
<rect x="294.3" y="264.3" width="3.2" height="3.2" fill="#000000"/>
<text x="306.9" y="268.8" font-size="8" text-anchor="start" fill="#262626">#6</text>
<line x1="287.4" y1="275.4" x2="304.4" y2="275.4" stroke="#ff8080" stroke-width="0.7" stroke-opacity="0.6"/>
<circle cx="295.9" cy="275.4" r="1.75" fill="#ff0000"/>
<text x="306.9" y="278.3" font-size="8" text-anchor="start" fill="#262626">#7</text>
<line x1="287.4" y1="285.1" x2="304.4" y2="285.1" stroke="#7f7fff" stroke-width="0.7" stroke-opacity="0.6"/>
<path d="M295.9 283.1L297.9 286.7L293.9 286.7Z" fill="#0000ff"/>
<text x="306.9" y="288" font-size="8" text-anchor="start" fill="#262626">#8</text>
<line x1="287.4" y1="294.7" x2="304.4" y2="294.7" stroke="#f07cf0" stroke-width="0.7" stroke-opacity="0.6"/>
<path d="M295.9 296.7L297.9 293.1L293.9 293.1Z" fill="#ff00ff"/>
<text x="306.9" y="297.6" font-size="8" text-anchor="start" fill="#262626">#9</text>
<path d="M295.9 302.35L297.95 304.4L295.9 306.45L293.85 304.4Z" fill="#006f00"/>
<text x="306.9" y="307.3" font-size="8" text-anchor="start" fill="#262626">#10</text>
<path d="M324.9 265.9L329.04 263.6L329.04 268.2Z" fill="#000080"/>
<text x="338.2" y="268.8" font-size="8" text-anchor="start" fill="#262626">#11</text>
<line x1="318.7" y1="275.4" x2="335.7" y2="275.4" stroke="#b780ff" stroke-width="0.7" stroke-opacity="0.6"/>
<path d="M329.5 275.4L325.36 273.1L325.36 277.7Z" fill="#8000ff"/>
<text x="338.2" y="278.3" font-size="8" text-anchor="start" fill="#262626">#12</text>
<line x1="318.7" y1="285.1" x2="335.7" y2="285.1" stroke="#b070b0" stroke-width="0.7" stroke-opacity="0.6"/>
<circle cx="327.2" cy="285.1" r="1.75" fill="#800080"/>
<text x="338.2" y="288" font-size="8" text-anchor="start" fill="#262626">#13</text>
<line x1="318.7" y1="294.7" x2="335.7" y2="294.7" stroke="#b07070" stroke-width="0.7" stroke-opacity="0.6"/>
<path d="M327.2 292.7L327.73 293.97L329.1 294.08L328.06 294.98L328.38 296.32L327.2 295.6L326.02 296.32L326.34 294.98L325.3 294.08L326.67 293.97Z" fill="#800000"/>
<text x="338.2" y="297.6" font-size="8" text-anchor="start" fill="#262626">#14</text>
<line x1="26.6" y1="505.1" x2="26.6" y2="502.5" stroke="#7a7a7a" stroke-width="0.8"/>
<text x="26.6" y="515.4" font-size="9.5" text-anchor="middle" fill="#262626">0</text>
<line x1="63.12" y1="505.1" x2="63.12" y2="502.5" stroke="#7a7a7a" stroke-width="0.8"/>
<text x="63.12" y="515.4" font-size="9.5" text-anchor="middle" fill="#262626">100</text>
<line x1="99.64" y1="505.1" x2="99.64" y2="502.5" stroke="#7a7a7a" stroke-width="0.8"/>
<text x="99.64" y="515.4" font-size="9.5" text-anchor="middle" fill="#262626">200</text>
<line x1="136.16" y1="505.1" x2="136.16" y2="502.5" stroke="#7a7a7a" stroke-width="0.8"/>
<text x="136.16" y="515.4" font-size="9.5" text-anchor="middle" fill="#262626">300</text>
<line x1="172.68" y1="505.1" x2="172.68" y2="502.5" stroke="#7a7a7a" stroke-width="0.8"/>
<text x="172.68" y="515.4" font-size="9.5" text-anchor="middle" fill="#262626">400</text>
<line x1="209.2" y1="505.1" x2="209.2" y2="502.5" stroke="#7a7a7a" stroke-width="0.8"/>
<text x="209.2" y="515.4" font-size="9.5" text-anchor="middle" fill="#262626">500</text>
<line x1="26.6" y1="371.3" x2="29.2" y2="371.3" stroke="#7a7a7a" stroke-width="0.8"/>
<text x="23.6" y="374.1" font-size="9.5" text-anchor="end" fill="#262626">2</text>
<line x1="26.6" y1="404.75" x2="29.2" y2="404.75" stroke="#7a7a7a" stroke-width="0.8"/>
<text x="23.6" y="407.55" font-size="9.5" text-anchor="end" fill="#262626">1</text>
<line x1="26.6" y1="438.2" x2="29.2" y2="438.2" stroke="#7a7a7a" stroke-width="0.8"/>
<text x="23.6" y="441" font-size="9.5" text-anchor="end" fill="#262626">0</text>
<line x1="26.6" y1="471.65" x2="29.2" y2="471.65" stroke="#7a7a7a" stroke-width="0.8"/>
<text x="23.6" y="474.45" font-size="9.5" text-anchor="end" fill="#262626">-1</text>
<line x1="26.6" y1="505.1" x2="29.2" y2="505.1" stroke="#7a7a7a" stroke-width="0.8"/>
<text x="23.6" y="507.9" font-size="9.5" text-anchor="end" fill="#262626">-2</text>
<path d="M26.6 371.3V505.1H209.2" fill="none" stroke="#7a7a7a" stroke-width="1.3"/>
<line x1="133.6" y1="369.2" x2="133.6" y2="505.1" stroke="#666" stroke-width="1.1" stroke-dasharray="2.6,2.6"/>
<line x1="200.4" y1="369.2" x2="200.4" y2="505.1" stroke="#555" stroke-width="1.1"/>
<text x="137.5" y="387.8" font-size="7.3" text-anchor="start" fill="#262626">Cracking</text>
<text x="176.5" y="387.8" font-size="7.3" text-anchor="start" fill="#262626">Failure</text>
<text transform="translate(15.8 434) rotate(-90)" font-size="10" text-anchor="middle" fill="#262626"><tspan font-style="italic">&#949;</tspan> / 10<tspan font-size="7.5" dy="-4">-3</tspan></text>
<text x="120.7" y="528.3" font-size="9.5" text-anchor="middle" fill="#262626"><tspan font-style="italic">P</tspan> / kN</text>
<text x="107.5" y="541.3" font-size="10" text-anchor="middle" font-weight="normal" fill="#262626">(g)</text>
<polyline points="26.6,438.2 41.7,437.9 60.1,434.3 77.9,428.5 96.2,426.8 105,425.3 113.9,424 121.7,422.4 129.6,420.7 137.2,419.7 144.8,418.4 152.6,416.5 160.3,415.5 167.7,414.5 176,412.4 186.5,411.3 194.7,410.3 200.3,409.2" fill="none" stroke="#8a8a8a" stroke-width="0.7" stroke-dasharray="2,1.5" stroke-opacity="0.7"/>
<rect x="25" y="436.6" width="3.2" height="3.2" fill="#000000"/>
<rect x="40.1" y="436.3" width="3.2" height="3.2" fill="#000000"/>
<rect x="58.5" y="432.7" width="3.2" height="3.2" fill="#000000"/>
<rect x="76.3" y="426.9" width="3.2" height="3.2" fill="#000000"/>
<rect x="94.6" y="425.2" width="3.2" height="3.2" fill="#000000"/>
<rect x="103.4" y="423.7" width="3.2" height="3.2" fill="#000000"/>
<rect x="112.3" y="422.4" width="3.2" height="3.2" fill="#000000"/>
<rect x="120.1" y="420.8" width="3.2" height="3.2" fill="#000000"/>
<rect x="128" y="419.1" width="3.2" height="3.2" fill="#000000"/>
<rect x="135.6" y="418.1" width="3.2" height="3.2" fill="#000000"/>
<rect x="143.2" y="416.8" width="3.2" height="3.2" fill="#000000"/>
<rect x="151" y="414.9" width="3.2" height="3.2" fill="#000000"/>
<rect x="158.7" y="413.9" width="3.2" height="3.2" fill="#000000"/>
<rect x="166.1" y="412.9" width="3.2" height="3.2" fill="#000000"/>
<rect x="174.4" y="410.8" width="3.2" height="3.2" fill="#000000"/>
<rect x="184.9" y="409.7" width="3.2" height="3.2" fill="#000000"/>
<rect x="193.1" y="408.7" width="3.2" height="3.2" fill="#000000"/>
<rect x="198.7" y="407.6" width="3.2" height="3.2" fill="#000000"/>
<polyline points="26.6,438.2 41.7,438.5 60.1,439 77.9,439.4 96.2,439.5 105,439.5 113.9,439.5 121.7,439.4 129.6,438.9 137.2,436.8 144.8,436.8 152.6,436.2 160.3,436.2 167.7,435.8 176,434.3 186.5,432.7 194.7,428.5 200.3,426" fill="none" stroke="#f07cf0" stroke-width="0.7" stroke-dasharray="2,1.5" stroke-opacity="0.7"/>
<path d="M26.6 440.2L28.6 436.6L24.6 436.6Z" fill="#ff00ff"/>
<path d="M41.7 440.5L43.7 436.9L39.7 436.9Z" fill="#ff00ff"/>
<path d="M60.1 441L62.1 437.4L58.1 437.4Z" fill="#ff00ff"/>
<path d="M77.9 441.4L79.9 437.8L75.9 437.8Z" fill="#ff00ff"/>
<path d="M96.2 441.5L98.2 437.9L94.2 437.9Z" fill="#ff00ff"/>
<path d="M105 441.5L107 437.9L103 437.9Z" fill="#ff00ff"/>
<path d="M113.9 441.5L115.9 437.9L111.9 437.9Z" fill="#ff00ff"/>
<path d="M121.7 441.4L123.7 437.8L119.7 437.8Z" fill="#ff00ff"/>
<path d="M129.6 440.9L131.6 437.3L127.6 437.3Z" fill="#ff00ff"/>
<path d="M137.2 438.8L139.2 435.2L135.2 435.2Z" fill="#ff00ff"/>
<path d="M144.8 438.8L146.8 435.2L142.8 435.2Z" fill="#ff00ff"/>
<path d="M152.6 438.2L154.6 434.6L150.6 434.6Z" fill="#ff00ff"/>
<path d="M160.3 438.2L162.3 434.6L158.3 434.6Z" fill="#ff00ff"/>
<path d="M167.7 437.8L169.7 434.2L165.7 434.2Z" fill="#ff00ff"/>
<path d="M176 436.3L178 432.7L174 432.7Z" fill="#ff00ff"/>
<path d="M186.5 434.7L188.5 431.1L184.5 431.1Z" fill="#ff00ff"/>
<path d="M194.7 430.5L196.7 426.9L192.7 426.9Z" fill="#ff00ff"/>
<path d="M200.3 428L202.3 424.4L198.3 424.4Z" fill="#ff00ff"/>
<polyline points="26.6,438.2 41.7,438 60.1,438 77.9,437.9 96.2,437.8 105,437.7 113.9,437.5 121.7,437.5 129.6,436.8 137.2,436.8 144.8,437.5 152.6,437.5 160.3,438.3 167.7,439.4 176,440.6 186.5,442.1 194.7,445.2 200.3,454.6" fill="none" stroke="#ff8080" stroke-width="0.7" stroke-opacity="0.7"/>
<circle cx="26.6" cy="438.2" r="1.75" fill="#ff0000"/>
<circle cx="41.7" cy="438" r="1.75" fill="#ff0000"/>
<circle cx="60.1" cy="438" r="1.75" fill="#ff0000"/>
<circle cx="77.9" cy="437.9" r="1.75" fill="#ff0000"/>
<circle cx="96.2" cy="437.8" r="1.75" fill="#ff0000"/>
<circle cx="105" cy="437.7" r="1.75" fill="#ff0000"/>
<circle cx="113.9" cy="437.5" r="1.75" fill="#ff0000"/>
<circle cx="121.7" cy="437.5" r="1.75" fill="#ff0000"/>
<circle cx="129.6" cy="436.8" r="1.75" fill="#ff0000"/>
<circle cx="137.2" cy="436.8" r="1.75" fill="#ff0000"/>
<circle cx="144.8" cy="437.5" r="1.75" fill="#ff0000"/>
<circle cx="152.6" cy="437.5" r="1.75" fill="#ff0000"/>
<circle cx="160.3" cy="438.3" r="1.75" fill="#ff0000"/>
<circle cx="167.7" cy="439.4" r="1.75" fill="#ff0000"/>
<circle cx="176" cy="440.6" r="1.75" fill="#ff0000"/>
<circle cx="186.5" cy="442.1" r="1.75" fill="#ff0000"/>
<circle cx="194.7" cy="445.2" r="1.75" fill="#ff0000"/>
<circle cx="200.3" cy="454.6" r="1.75" fill="#ff0000"/>
<polyline points="26.6,438.2 41.7,439.6 60.1,440.6 77.9,441.4 96.2,442 105,443.3 113.9,445.8 121.7,448.3 129.6,452.6 137.2,455.6 144.8,458.3 152.6,461.3 160.3,463.9 167.7,465.9 176,467.6 186.5,470.1 194.7,472.1 200.3,477.6" fill="none" stroke="#7f7fff" stroke-width="0.7" stroke-dasharray="2,1.5" stroke-opacity="0.7"/>
<path d="M26.6 436.2L28.6 439.8L24.6 439.8Z" fill="#0000ff"/>
<path d="M41.7 437.6L43.7 441.2L39.7 441.2Z" fill="#0000ff"/>
<path d="M60.1 438.6L62.1 442.2L58.1 442.2Z" fill="#0000ff"/>
<path d="M77.9 439.4L79.9 443L75.9 443Z" fill="#0000ff"/>
<path d="M96.2 440L98.2 443.6L94.2 443.6Z" fill="#0000ff"/>
<path d="M105 441.3L107 444.9L103 444.9Z" fill="#0000ff"/>
<path d="M113.9 443.8L115.9 447.4L111.9 447.4Z" fill="#0000ff"/>
<path d="M121.7 446.3L123.7 449.9L119.7 449.9Z" fill="#0000ff"/>
<path d="M129.6 450.6L131.6 454.2L127.6 454.2Z" fill="#0000ff"/>
<path d="M137.2 453.6L139.2 457.2L135.2 457.2Z" fill="#0000ff"/>
<path d="M144.8 456.3L146.8 459.9L142.8 459.9Z" fill="#0000ff"/>
<path d="M152.6 459.3L154.6 462.9L150.6 462.9Z" fill="#0000ff"/>
<path d="M160.3 461.9L162.3 465.5L158.3 465.5Z" fill="#0000ff"/>
<path d="M167.7 463.9L169.7 467.5L165.7 467.5Z" fill="#0000ff"/>
<path d="M176 465.6L178 469.2L174 469.2Z" fill="#0000ff"/>
<path d="M186.5 468.1L188.5 471.7L184.5 471.7Z" fill="#0000ff"/>
<path d="M194.7 470.1L196.7 473.7L192.7 473.7Z" fill="#0000ff"/>
<path d="M200.3 475.6L202.3 479.2L198.3 479.2Z" fill="#0000ff"/>
<polyline points="26.6,438.2 41.7,436.4 60.1,438.9 77.9,449.8 96.2,455.8 105,460.1 113.9,464.4 121.7,468.1 129.6,472.6 137.2,474.4 144.8,477.7 152.6,479.7 160.3,481.4 167.7,485.2 176,487.7 186.5,490.7 194.7,496 200.3,498" fill="none" stroke="#74b874" stroke-width="0.7" stroke-opacity="0.7"/>
<path d="M26.6 436.15L28.65 438.2L26.6 440.25L24.55 438.2Z" fill="#006f00"/>
<path d="M41.7 434.35L43.75 436.4L41.7 438.45L39.65 436.4Z" fill="#006f00"/>
<path d="M60.1 436.85L62.15 438.9L60.1 440.95L58.05 438.9Z" fill="#006f00"/>
<path d="M77.9 447.75L79.95 449.8L77.9 451.85L75.85 449.8Z" fill="#006f00"/>
<path d="M96.2 453.75L98.25 455.8L96.2 457.85L94.15 455.8Z" fill="#006f00"/>
<path d="M105 458.05L107.05 460.1L105 462.15L102.95 460.1Z" fill="#006f00"/>
<path d="M113.9 462.35L115.95 464.4L113.9 466.45L111.85 464.4Z" fill="#006f00"/>
<path d="M121.7 466.05L123.75 468.1L121.7 470.15L119.65 468.1Z" fill="#006f00"/>
<path d="M129.6 470.55L131.65 472.6L129.6 474.65L127.55 472.6Z" fill="#006f00"/>
<path d="M137.2 472.35L139.25 474.4L137.2 476.45L135.15 474.4Z" fill="#006f00"/>
<path d="M144.8 475.65L146.85 477.7L144.8 479.75L142.75 477.7Z" fill="#006f00"/>
<path d="M152.6 477.65L154.65 479.7L152.6 481.75L150.55 479.7Z" fill="#006f00"/>
<path d="M160.3 479.35L162.35 481.4L160.3 483.45L158.25 481.4Z" fill="#006f00"/>
<path d="M167.7 483.15L169.75 485.2L167.7 487.25L165.65 485.2Z" fill="#006f00"/>
<path d="M176 485.65L178.05 487.7L176 489.75L173.95 487.7Z" fill="#006f00"/>
<path d="M186.5 488.65L188.55 490.7L186.5 492.75L184.45 490.7Z" fill="#006f00"/>
<path d="M194.7 493.95L196.75 496L194.7 498.05L192.65 496Z" fill="#006f00"/>
<path d="M200.3 495.95L202.35 498L200.3 500.05L198.25 498Z" fill="#006f00"/>
<line x1="37.5" y1="375.4" x2="54.5" y2="375.4" stroke="#8a8a8a" stroke-width="0.7" stroke-opacity="1.0"/>
<rect x="44.4" y="373.8" width="3.2" height="3.2" fill="#000000"/>
<text x="57" y="378.3" font-size="8" text-anchor="start" fill="#262626">#1</text>
<path d="M46 387.2L48 383.6L44 383.6Z" fill="#ff00ff"/>
<text x="57" y="388.1" font-size="8" text-anchor="start" fill="#262626">#2</text>
<line x1="37.5" y1="394.8" x2="54.5" y2="394.8" stroke="#f8b0b0" stroke-width="0.7" stroke-opacity="1.0"/>
<circle cx="46" cy="394.8" r="1.75" fill="#ff0000"/>
<text x="57" y="397.7" font-size="8" text-anchor="start" fill="#262626">#3</text>
<line x1="37.5" y1="404.4" x2="54.5" y2="404.4" stroke="#e4e4ee" stroke-width="0.7" stroke-opacity="1.0"/>
<path d="M46 402.4L48 406L44 406Z" fill="#0000ff"/>
<text x="57" y="407.3" font-size="8" text-anchor="start" fill="#262626">#4</text>
<line x1="37.5" y1="414.2" x2="54.5" y2="414.2" stroke="#c4dcc4" stroke-width="0.7" stroke-opacity="1.0"/>
<path d="M46 412.15L48.05 414.2L46 416.25L43.95 414.2Z" fill="#006f00"/>
<text x="57" y="417.1" font-size="8" text-anchor="start" fill="#262626">#5</text>
<line x1="278.8" y1="504.3" x2="278.8" y2="501.7" stroke="#7a7a7a" stroke-width="0.8"/>
<text x="278.8" y="514.6" font-size="9.5" text-anchor="middle" fill="#262626">0</text>
<line x1="314.96" y1="504.3" x2="314.96" y2="501.7" stroke="#7a7a7a" stroke-width="0.8"/>
<text x="314.96" y="514.6" font-size="9.5" text-anchor="middle" fill="#262626">100</text>
<line x1="351.12" y1="504.3" x2="351.12" y2="501.7" stroke="#7a7a7a" stroke-width="0.8"/>
<text x="351.12" y="514.6" font-size="9.5" text-anchor="middle" fill="#262626">200</text>
<line x1="387.28" y1="504.3" x2="387.28" y2="501.7" stroke="#7a7a7a" stroke-width="0.8"/>
<text x="387.28" y="514.6" font-size="9.5" text-anchor="middle" fill="#262626">300</text>
<line x1="423.44" y1="504.3" x2="423.44" y2="501.7" stroke="#7a7a7a" stroke-width="0.8"/>
<text x="423.44" y="514.6" font-size="9.5" text-anchor="middle" fill="#262626">400</text>
<line x1="459.6" y1="504.3" x2="459.6" y2="501.7" stroke="#7a7a7a" stroke-width="0.8"/>
<text x="459.6" y="514.6" font-size="9.5" text-anchor="middle" fill="#262626">500</text>
<line x1="278.8" y1="371.3" x2="281.4" y2="371.3" stroke="#7a7a7a" stroke-width="0.8"/>
<text x="275.8" y="374.1" font-size="9.5" text-anchor="end" fill="#262626">1.5</text>
<line x1="278.8" y1="415.63" x2="281.4" y2="415.63" stroke="#7a7a7a" stroke-width="0.8"/>
<text x="275.8" y="418.43" font-size="9.5" text-anchor="end" fill="#262626">0.0</text>
<line x1="278.8" y1="459.97" x2="281.4" y2="459.97" stroke="#7a7a7a" stroke-width="0.8"/>
<text x="275.8" y="462.77" font-size="9.5" text-anchor="end" fill="#262626">-1.5</text>
<line x1="278.8" y1="504.3" x2="281.4" y2="504.3" stroke="#7a7a7a" stroke-width="0.8"/>
<text x="275.8" y="507.1" font-size="9.5" text-anchor="end" fill="#262626">-3.0</text>
<path d="M278.8 371.3V504.3H459.6" fill="none" stroke="#7a7a7a" stroke-width="1.3"/>
<line x1="385.2" y1="370" x2="385.2" y2="504.3" stroke="#666" stroke-width="1.1" stroke-dasharray="2.6,2.6"/>
<line x1="451.4" y1="370" x2="451.4" y2="504.3" stroke="#555" stroke-width="1.1"/>
<text x="355.8" y="384.6" font-size="7.3" text-anchor="start" fill="#262626">Cracking</text>
<text x="429.9" y="383.3" font-size="7.3" text-anchor="start" fill="#262626">Failure</text>
<text transform="translate(260.4 436.6) rotate(-90)" font-size="10" text-anchor="middle" fill="#262626"><tspan font-style="italic">&#949;</tspan> / 10<tspan font-size="7.5" dy="-4">-3</tspan></text>
<text x="369" y="528.3" font-size="9.5" text-anchor="middle" fill="#262626"><tspan font-style="italic">P</tspan> / kN</text>
<text x="355.6" y="540.8" font-size="10" text-anchor="middle" font-weight="bold" fill="#262626">(h)</text>
<polyline points="278.8,415.5 293.8,415.5 312,418 329.8,420.7 347.8,422.2 356.6,423.7 365.4,424.9 373.4,426.3 380.7,427.7 388.4,428.8 396,430.8 403.6,432.4 411.4,434.3 419,437.5 426.6,443.1 437.5,449.3 445.6,459 451.3,470.7" fill="none" stroke="#8a8a8a" stroke-width="0.7" stroke-dasharray="2,1.5" stroke-opacity="0.7"/>
<rect x="277.2" y="413.9" width="3.2" height="3.2" fill="#000000"/>
<rect x="292.2" y="413.9" width="3.2" height="3.2" fill="#000000"/>
<rect x="310.4" y="416.4" width="3.2" height="3.2" fill="#000000"/>
<rect x="328.2" y="419.1" width="3.2" height="3.2" fill="#000000"/>
<rect x="346.2" y="420.6" width="3.2" height="3.2" fill="#000000"/>
<rect x="355" y="422.1" width="3.2" height="3.2" fill="#000000"/>
<rect x="363.8" y="423.3" width="3.2" height="3.2" fill="#000000"/>
<rect x="371.8" y="424.7" width="3.2" height="3.2" fill="#000000"/>
<rect x="379.1" y="426.1" width="3.2" height="3.2" fill="#000000"/>
<rect x="386.8" y="427.2" width="3.2" height="3.2" fill="#000000"/>
<rect x="394.4" y="429.2" width="3.2" height="3.2" fill="#000000"/>
<rect x="402" y="430.8" width="3.2" height="3.2" fill="#000000"/>
<rect x="409.8" y="432.7" width="3.2" height="3.2" fill="#000000"/>
<rect x="417.4" y="435.9" width="3.2" height="3.2" fill="#000000"/>
<rect x="425" y="441.5" width="3.2" height="3.2" fill="#000000"/>
<rect x="435.9" y="447.7" width="3.2" height="3.2" fill="#000000"/>
<rect x="444" y="457.4" width="3.2" height="3.2" fill="#000000"/>
<rect x="449.7" y="469.1" width="3.2" height="3.2" fill="#000000"/>
<polyline points="278.8,415.5 293.8,415.5 312,415.9 329.8,417 347.8,417.6 356.6,418 365.4,418.4 373.4,419.1 380.7,419.6 388.4,420.3 396,421.5 403.6,422.4 411.4,423.3 419,425.2 426.6,426.6 437.5,428.1 445.6,430.5 451.3,432.4" fill="none" stroke="#ff8080" stroke-width="0.7" stroke-dasharray="2,1.5" stroke-opacity="0.7"/>
<circle cx="278.8" cy="415.5" r="1.75" fill="#ff0000"/>
<circle cx="293.8" cy="415.5" r="1.75" fill="#ff0000"/>
<circle cx="312" cy="415.9" r="1.75" fill="#ff0000"/>
<circle cx="329.8" cy="417" r="1.75" fill="#ff0000"/>
<circle cx="347.8" cy="417.6" r="1.75" fill="#ff0000"/>
<circle cx="356.6" cy="418" r="1.75" fill="#ff0000"/>
<circle cx="365.4" cy="418.4" r="1.75" fill="#ff0000"/>
<circle cx="373.4" cy="419.1" r="1.75" fill="#ff0000"/>
<circle cx="380.7" cy="419.6" r="1.75" fill="#ff0000"/>
<circle cx="388.4" cy="420.3" r="1.75" fill="#ff0000"/>
<circle cx="396" cy="421.5" r="1.75" fill="#ff0000"/>
<circle cx="403.6" cy="422.4" r="1.75" fill="#ff0000"/>
<circle cx="411.4" cy="423.3" r="1.75" fill="#ff0000"/>
<circle cx="419" cy="425.2" r="1.75" fill="#ff0000"/>
<circle cx="426.6" cy="426.6" r="1.75" fill="#ff0000"/>
<circle cx="437.5" cy="428.1" r="1.75" fill="#ff0000"/>
<circle cx="445.6" cy="430.5" r="1.75" fill="#ff0000"/>
<circle cx="451.3" cy="432.4" r="1.75" fill="#ff0000"/>
<polyline points="278.8,415.5 293.8,415.8 312,416 329.8,416 347.8,416 356.6,416 365.4,416 373.4,415.5 380.7,415.3 388.4,415.2 396,415 403.6,414.8 411.4,414.5 419,414.2 426.6,413.8 437.5,413.2 445.6,413 451.3,412.9" fill="none" stroke="#7f7fff" stroke-width="0.7" stroke-dasharray="2,1.5" stroke-opacity="0.7"/>
<path d="M278.8 413.5L280.8 417.1L276.8 417.1Z" fill="#0000ff"/>
<path d="M293.8 413.8L295.8 417.4L291.8 417.4Z" fill="#0000ff"/>
<path d="M312 414L314 417.6L310 417.6Z" fill="#0000ff"/>
<path d="M329.8 414L331.8 417.6L327.8 417.6Z" fill="#0000ff"/>
<path d="M347.8 414L349.8 417.6L345.8 417.6Z" fill="#0000ff"/>
<path d="M356.6 414L358.6 417.6L354.6 417.6Z" fill="#0000ff"/>
<path d="M365.4 414L367.4 417.6L363.4 417.6Z" fill="#0000ff"/>
<path d="M373.4 413.5L375.4 417.1L371.4 417.1Z" fill="#0000ff"/>
<path d="M380.7 413.3L382.7 416.9L378.7 416.9Z" fill="#0000ff"/>
<path d="M388.4 413.2L390.4 416.8L386.4 416.8Z" fill="#0000ff"/>
<path d="M396 413L398 416.6L394 416.6Z" fill="#0000ff"/>
<path d="M403.6 412.8L405.6 416.4L401.6 416.4Z" fill="#0000ff"/>
<path d="M411.4 412.5L413.4 416.1L409.4 416.1Z" fill="#0000ff"/>
<path d="M419 412.2L421 415.8L417 415.8Z" fill="#0000ff"/>
<path d="M426.6 411.8L428.6 415.4L424.6 415.4Z" fill="#0000ff"/>
<path d="M437.5 411.2L439.5 414.8L435.5 414.8Z" fill="#0000ff"/>
<path d="M445.6 411L447.6 414.6L443.6 414.6Z" fill="#0000ff"/>
<path d="M451.3 410.9L453.3 414.5L449.3 414.5Z" fill="#0000ff"/>
<polyline points="278.8,415.5 293.8,415 312,414.5 329.8,414 347.8,413.5 356.6,413 365.4,412.5 373.4,412 380.7,411.5 388.4,411 396,410.7 403.6,410.3 411.4,410 419,409.5 426.6,409 437.5,408.5 445.6,408 451.3,407.7" fill="none" stroke="#f07cf0" stroke-width="0.7" stroke-dasharray="2,1.5" stroke-opacity="0.7"/>
<path d="M278.8 417.5L280.8 413.9L276.8 413.9Z" fill="#ff00ff"/>
<path d="M293.8 417L295.8 413.4L291.8 413.4Z" fill="#ff00ff"/>
<path d="M312 416.5L314 412.9L310 412.9Z" fill="#ff00ff"/>
<path d="M329.8 416L331.8 412.4L327.8 412.4Z" fill="#ff00ff"/>
<path d="M347.8 415.5L349.8 411.9L345.8 411.9Z" fill="#ff00ff"/>
<path d="M356.6 415L358.6 411.4L354.6 411.4Z" fill="#ff00ff"/>
<path d="M365.4 414.5L367.4 410.9L363.4 410.9Z" fill="#ff00ff"/>
<path d="M373.4 414L375.4 410.4L371.4 410.4Z" fill="#ff00ff"/>
<path d="M380.7 413.5L382.7 409.9L378.7 409.9Z" fill="#ff00ff"/>
<path d="M388.4 413L390.4 409.4L386.4 409.4Z" fill="#ff00ff"/>
<path d="M396 412.7L398 409.1L394 409.1Z" fill="#ff00ff"/>
<path d="M403.6 412.3L405.6 408.7L401.6 408.7Z" fill="#ff00ff"/>
<path d="M411.4 412L413.4 408.4L409.4 408.4Z" fill="#ff00ff"/>
<path d="M419 411.5L421 407.9L417 407.9Z" fill="#ff00ff"/>
<path d="M426.6 411L428.6 407.4L424.6 407.4Z" fill="#ff00ff"/>
<path d="M437.5 410.5L439.5 406.9L435.5 406.9Z" fill="#ff00ff"/>
<path d="M445.6 410L447.6 406.4L443.6 406.4Z" fill="#ff00ff"/>
<path d="M451.3 409.7L453.3 406.1L449.3 406.1Z" fill="#ff00ff"/>
<polyline points="278.8,415.5 293.8,415 312,414.5 329.8,414 347.8,413.7 356.6,413.5 365.4,413.3 373.4,413.1 380.7,413 388.4,412.9 396,412.9 403.6,413 411.4,413.5 419,414.5 426.6,415.6 437.5,415.6 445.6,415.6 451.3,415.6" fill="none" stroke="#74b874" stroke-width="0.7" stroke-dasharray="2,1.5" stroke-opacity="0.7"/>
<path d="M278.8 413.45L280.85 415.5L278.8 417.55L276.75 415.5Z" fill="#006f00"/>
<path d="M293.8 412.95L295.85 415L293.8 417.05L291.75 415Z" fill="#006f00"/>
<path d="M312 412.45L314.05 414.5L312 416.55L309.95 414.5Z" fill="#006f00"/>
<path d="M329.8 411.95L331.85 414L329.8 416.05L327.75 414Z" fill="#006f00"/>
<path d="M347.8 411.65L349.85 413.7L347.8 415.75L345.75 413.7Z" fill="#006f00"/>
<path d="M356.6 411.45L358.65 413.5L356.6 415.55L354.55 413.5Z" fill="#006f00"/>
<path d="M365.4 411.25L367.45 413.3L365.4 415.35L363.35 413.3Z" fill="#006f00"/>
<path d="M373.4 411.05L375.45 413.1L373.4 415.15L371.35 413.1Z" fill="#006f00"/>
<path d="M380.7 410.95L382.75 413L380.7 415.05L378.65 413Z" fill="#006f00"/>
<path d="M388.4 410.85L390.45 412.9L388.4 414.95L386.35 412.9Z" fill="#006f00"/>
<path d="M396 410.85L398.05 412.9L396 414.95L393.95 412.9Z" fill="#006f00"/>
<path d="M403.6 410.95L405.65 413L403.6 415.05L401.55 413Z" fill="#006f00"/>
<path d="M411.4 411.45L413.45 413.5L411.4 415.55L409.35 413.5Z" fill="#006f00"/>
<path d="M419 412.45L421.05 414.5L419 416.55L416.95 414.5Z" fill="#006f00"/>
<path d="M426.6 413.55L428.65 415.6L426.6 417.65L424.55 415.6Z" fill="#006f00"/>
<path d="M437.5 413.55L439.55 415.6L437.5 417.65L435.45 415.6Z" fill="#006f00"/>
<path d="M445.6 413.55L447.65 415.6L445.6 417.65L443.55 415.6Z" fill="#006f00"/>
<path d="M451.3 413.55L453.35 415.6L451.3 417.65L449.25 415.6Z" fill="#006f00"/>
<polyline points="278.8,415.5 293.8,415 312,414.3 329.8,413.5 347.8,413 356.6,412.7 365.4,412.4 373.4,412.1 380.7,411.8 388.4,411.5 396,411.3 403.6,411 411.4,410.8 419,410.5 426.6,410.3 437.5,410 445.6,409.8 451.3,409.5" fill="none" stroke="#5c5cb0" stroke-width="0.7" stroke-dasharray="2,1.5" stroke-opacity="0.7"/>
<path d="M276.5 415.5L280.64 413.2L280.64 417.8Z" fill="#000080"/>
<path d="M291.5 415L295.64 412.7L295.64 417.3Z" fill="#000080"/>
<path d="M309.7 414.3L313.84 412L313.84 416.6Z" fill="#000080"/>
<path d="M327.5 413.5L331.64 411.2L331.64 415.8Z" fill="#000080"/>
<path d="M345.5 413L349.64 410.7L349.64 415.3Z" fill="#000080"/>
<path d="M354.3 412.7L358.44 410.4L358.44 415Z" fill="#000080"/>
<path d="M363.1 412.4L367.24 410.1L367.24 414.7Z" fill="#000080"/>
<path d="M371.1 412.1L375.24 409.8L375.24 414.4Z" fill="#000080"/>
<path d="M378.4 411.8L382.54 409.5L382.54 414.1Z" fill="#000080"/>
<path d="M386.1 411.5L390.24 409.2L390.24 413.8Z" fill="#000080"/>
<path d="M393.7 411.3L397.84 409L397.84 413.6Z" fill="#000080"/>
<path d="M401.3 411L405.44 408.7L405.44 413.3Z" fill="#000080"/>
<path d="M409.1 410.8L413.24 408.5L413.24 413.1Z" fill="#000080"/>
<path d="M416.7 410.5L420.84 408.2L420.84 412.8Z" fill="#000080"/>
<path d="M424.3 410.3L428.44 408L428.44 412.6Z" fill="#000080"/>
<path d="M435.2 410L439.34 407.7L439.34 412.3Z" fill="#000080"/>
<path d="M443.3 409.8L447.44 407.5L447.44 412.1Z" fill="#000080"/>
<path d="M449 409.5L453.14 407.2L453.14 411.8Z" fill="#000080"/>
<polyline points="278.8,415.5 293.8,414.8 312,414.3 329.8,413.8 347.8,413.3 356.6,413 365.4,412.7 373.4,412.4 380.7,412 388.4,411.5 396,411 403.6,410.5 411.4,405.6 419,401.8 426.6,395.1 437.5,373.8" fill="none" stroke="#b780ff" stroke-width="0.7" stroke-opacity="0.7"/>
<path d="M281.1 415.5L276.96 413.2L276.96 417.8Z" fill="#8000ff"/>
<path d="M296.1 414.8L291.96 412.5L291.96 417.1Z" fill="#8000ff"/>
<path d="M314.3 414.3L310.16 412L310.16 416.6Z" fill="#8000ff"/>
<path d="M332.1 413.8L327.96 411.5L327.96 416.1Z" fill="#8000ff"/>
<path d="M350.1 413.3L345.96 411L345.96 415.6Z" fill="#8000ff"/>
<path d="M358.9 413L354.76 410.7L354.76 415.3Z" fill="#8000ff"/>
<path d="M367.7 412.7L363.56 410.4L363.56 415Z" fill="#8000ff"/>
<path d="M375.7 412.4L371.56 410.1L371.56 414.7Z" fill="#8000ff"/>
<path d="M383 412L378.86 409.7L378.86 414.3Z" fill="#8000ff"/>
<path d="M390.7 411.5L386.56 409.2L386.56 413.8Z" fill="#8000ff"/>
<path d="M398.3 411L394.16 408.7L394.16 413.3Z" fill="#8000ff"/>
<path d="M405.9 410.5L401.76 408.2L401.76 412.8Z" fill="#8000ff"/>
<path d="M413.7 405.6L409.56 403.3L409.56 407.9Z" fill="#8000ff"/>
<path d="M421.3 401.8L417.16 399.5L417.16 404.1Z" fill="#8000ff"/>
<path d="M428.9 395.1L424.76 392.8L424.76 397.4Z" fill="#8000ff"/>
<path d="M439.8 373.8L435.66 371.5L435.66 376.1Z" fill="#8000ff"/>
<polyline points="278.8,415.5 293.8,414.9 312,413.4 329.8,411.7 347.8,410.7 356.6,410.1 365.4,409.6 373.4,408.6 380.7,408.5 388.4,405.6 396,402.8 403.6,373.8" fill="none" stroke="#b070b0" stroke-width="0.7" stroke-opacity="0.7"/>
<circle cx="278.8" cy="415.5" r="1.75" fill="#800080"/>
<circle cx="293.8" cy="414.9" r="1.75" fill="#800080"/>
<circle cx="312" cy="413.4" r="1.75" fill="#800080"/>
<circle cx="329.8" cy="411.7" r="1.75" fill="#800080"/>
<circle cx="347.8" cy="410.7" r="1.75" fill="#800080"/>
<circle cx="356.6" cy="410.1" r="1.75" fill="#800080"/>
<circle cx="365.4" cy="409.6" r="1.75" fill="#800080"/>
<circle cx="373.4" cy="408.6" r="1.75" fill="#800080"/>
<circle cx="380.7" cy="408.5" r="1.75" fill="#800080"/>
<circle cx="388.4" cy="405.6" r="1.75" fill="#800080"/>
<circle cx="396" cy="402.8" r="1.75" fill="#800080"/>
<circle cx="403.6" cy="373.8" r="1.75" fill="#800080"/>
<polyline points="278.8,415.5 293.8,415 312,414 329.8,412.5 347.8,411.5 356.6,411 365.4,410.5 373.4,410 380.7,409.7 388.4,409.5 396,409.3 403.6,409.2 411.4,409.2 419,409.3 426.6,409.4 437.5,409.5 445.6,409.5 451.3,409.5" fill="none" stroke="#b07070" stroke-width="0.7" stroke-dasharray="2,1.5" stroke-opacity="0.7"/>
<path d="M278.8 413.5L279.33 414.77L280.7 414.88L279.66 415.78L279.98 417.12L278.8 416.4L277.62 417.12L277.94 415.78L276.9 414.88L278.27 414.77Z" fill="#800000"/>
<path d="M293.8 413L294.33 414.27L295.7 414.38L294.66 415.28L294.98 416.62L293.8 415.9L292.62 416.62L292.94 415.28L291.9 414.38L293.27 414.27Z" fill="#800000"/>
<path d="M312 412L312.53 413.27L313.9 413.38L312.86 414.28L313.18 415.62L312 414.9L310.82 415.62L311.14 414.28L310.1 413.38L311.47 413.27Z" fill="#800000"/>
<path d="M329.8 410.5L330.33 411.77L331.7 411.88L330.66 412.78L330.98 414.12L329.8 413.4L328.62 414.12L328.94 412.78L327.9 411.88L329.27 411.77Z" fill="#800000"/>
<path d="M347.8 409.5L348.33 410.77L349.7 410.88L348.66 411.78L348.98 413.12L347.8 412.4L346.62 413.12L346.94 411.78L345.9 410.88L347.27 410.77Z" fill="#800000"/>
<path d="M356.6 409L357.13 410.27L358.5 410.38L357.46 411.28L357.78 412.62L356.6 411.9L355.42 412.62L355.74 411.28L354.7 410.38L356.07 410.27Z" fill="#800000"/>
<path d="M365.4 408.5L365.93 409.77L367.3 409.88L366.26 410.78L366.58 412.12L365.4 411.4L364.22 412.12L364.54 410.78L363.5 409.88L364.87 409.77Z" fill="#800000"/>
<path d="M373.4 408L373.93 409.27L375.3 409.38L374.26 410.28L374.58 411.62L373.4 410.9L372.22 411.62L372.54 410.28L371.5 409.38L372.87 409.27Z" fill="#800000"/>
<path d="M380.7 407.7L381.23 408.97L382.6 409.08L381.56 409.98L381.88 411.32L380.7 410.6L379.52 411.32L379.84 409.98L378.8 409.08L380.17 408.97Z" fill="#800000"/>
<path d="M388.4 407.5L388.93 408.77L390.3 408.88L389.26 409.78L389.58 411.12L388.4 410.4L387.22 411.12L387.54 409.78L386.5 408.88L387.87 408.77Z" fill="#800000"/>
<path d="M396 407.3L396.53 408.57L397.9 408.68L396.86 409.58L397.18 410.92L396 410.2L394.82 410.92L395.14 409.58L394.1 408.68L395.47 408.57Z" fill="#800000"/>
<path d="M403.6 407.2L404.13 408.47L405.5 408.58L404.46 409.48L404.78 410.82L403.6 410.1L402.42 410.82L402.74 409.48L401.7 408.58L403.07 408.47Z" fill="#800000"/>
<path d="M411.4 407.2L411.93 408.47L413.3 408.58L412.26 409.48L412.58 410.82L411.4 410.1L410.22 410.82L410.54 409.48L409.5 408.58L410.87 408.47Z" fill="#800000"/>
<path d="M419 407.3L419.53 408.57L420.9 408.68L419.86 409.58L420.18 410.92L419 410.2L417.82 410.92L418.14 409.58L417.1 408.68L418.47 408.57Z" fill="#800000"/>
<path d="M426.6 407.4L427.13 408.67L428.5 408.78L427.46 409.68L427.78 411.02L426.6 410.3L425.42 411.02L425.74 409.68L424.7 408.78L426.07 408.67Z" fill="#800000"/>
<path d="M437.5 407.5L438.03 408.77L439.4 408.88L438.36 409.78L438.68 411.12L437.5 410.4L436.32 411.12L436.64 409.78L435.6 408.88L436.97 408.77Z" fill="#800000"/>
<path d="M445.6 407.5L446.13 408.77L447.5 408.88L446.46 409.78L446.78 411.12L445.6 410.4L444.42 411.12L444.74 409.78L443.7 408.88L445.07 408.77Z" fill="#800000"/>
<path d="M451.3 407.5L451.83 408.77L453.2 408.88L452.16 409.78L452.48 411.12L451.3 410.4L450.12 411.12L450.44 409.78L449.4 408.88L450.77 408.77Z" fill="#800000"/>
<line x1="286.6" y1="444.7" x2="303.6" y2="444.7" stroke="#8a8a8a" stroke-width="0.7" stroke-opacity="0.75"/>
<rect x="293.5" y="443.1" width="3.2" height="3.2" fill="#000000"/>
<text x="306.1" y="447.6" font-size="8" text-anchor="start" fill="#262626">#6</text>
<circle cx="295.1" cy="454.5" r="1.75" fill="#ff0000"/>
<text x="306.1" y="457.4" font-size="8" text-anchor="start" fill="#262626">#7</text>
<path d="M295.1 462.2L297.1 465.8L293.1 465.8Z" fill="#0000ff"/>
<text x="306.1" y="467.1" font-size="8" text-anchor="start" fill="#262626">#8</text>
<line x1="286.6" y1="473.9" x2="303.6" y2="473.9" stroke="#fce" stroke-width="0.7" stroke-opacity="0.75"/>
<path d="M295.1 475.9L297.1 472.3L293.1 472.3Z" fill="#ff00ff"/>
<text x="306.1" y="476.8" font-size="8" text-anchor="start" fill="#262626">#9</text>
<line x1="286.6" y1="483.6" x2="303.6" y2="483.6" stroke="#006f00" stroke-width="0.7" stroke-opacity="0.75"/>
<path d="M295.1 481.55L297.15 483.6L295.1 485.65L293.05 483.6Z" fill="#006f00"/>
<text x="306.1" y="486.5" font-size="8" text-anchor="start" fill="#262626">#10</text>
<line x1="318" y1="444.7" x2="335" y2="444.7" stroke="#5c5cb0" stroke-width="0.7" stroke-opacity="0.75"/>
<path d="M324.2 444.7L328.34 442.4L328.34 447Z" fill="#000080"/>
<text x="337.5" y="447.6" font-size="8" text-anchor="start" fill="#262626">#11</text>
<path d="M328.8 454.5L324.66 452.2L324.66 456.8Z" fill="#8000ff"/>
<text x="337.5" y="457.4" font-size="8" text-anchor="start" fill="#262626">#12</text>
<circle cx="326.5" cy="464.2" r="1.75" fill="#800080"/>
<text x="337.5" y="467.1" font-size="8" text-anchor="start" fill="#262626">#13</text>
<line x1="318" y1="473.9" x2="335" y2="473.9" stroke="#edd" stroke-width="0.7" stroke-opacity="0.75"/>
<path d="M326.5 471.9L327.03 473.17L328.4 473.28L327.36 474.18L327.68 475.52L326.5 474.8L325.32 475.52L325.64 474.18L324.6 473.28L325.97 473.17Z" fill="#800000"/>
<text x="337.5" y="476.8" font-size="8" text-anchor="start" fill="#262626">#14</text>
</svg>
</body></html>
